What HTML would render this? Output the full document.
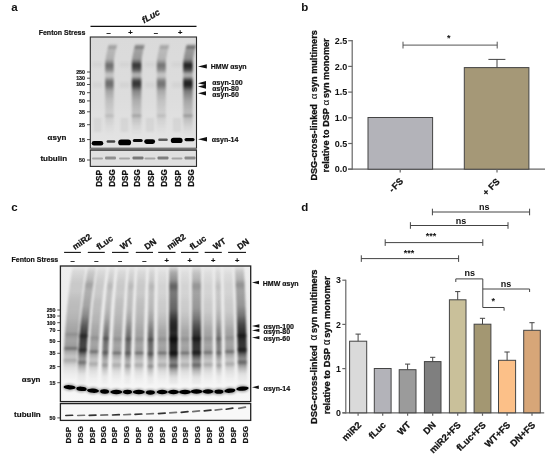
<!DOCTYPE html>
<html><head><meta charset="utf-8"><title>Figure</title>
<style>html,body{margin:0;padding:0;background:#fff}svg{display:block}text{font-family:"Liberation Sans",sans-serif;fill:#111}</style>
</head><body>
<svg width="550" height="459" viewBox="0 0 550 459">
<defs>
<filter id="b1" x="-20%" y="-20%" width="140%" height="140%"><feGaussianBlur stdDeviation="1.3"/></filter>
<filter id="b2" x="-30%" y="-60%" width="160%" height="220%"><feGaussianBlur stdDeviation="0.7"/></filter>
<filter id="b4" x="-20%" y="-20%" width="140%" height="140%"><feGaussianBlur stdDeviation="0.95 1.3"/></filter>
<filter id="b3" x="-30%" y="-60%" width="160%" height="220%"><feGaussianBlur stdDeviation="1.0"/></filter>
<linearGradient id="ga" x1="0" y1="0" x2="0" y2="1"><stop offset="0" stop-color="#dadada"/><stop offset="0.55" stop-color="#dddddd"/><stop offset="1" stop-color="#e4e4e4"/></linearGradient>
<linearGradient id="gc" x1="0" y1="0" x2="0" y2="1"><stop offset="0" stop-color="#eeeeee"/><stop offset="0.45" stop-color="#ebebeb"/><stop offset="0.75" stop-color="#f3f3f3"/><stop offset="1" stop-color="#f7f7f7"/></linearGradient>
<clipPath id="ca"><rect x="90.3" y="37" width="106.2" height="111.3"/></clipPath>
<clipPath id="cat"><rect x="90.3" y="150.2" width="106.2" height="16.2"/></clipPath>
<clipPath id="cc"><rect x="60.4" y="266" width="190.3" height="135.6"/></clipPath>
<clipPath id="cct"><rect x="60.4" y="403.6" width="190.3" height="16.8"/></clipPath>
</defs>
<rect width="550" height="459" fill="#fff"/>
<text x="11.2" y="11.3" font-size="11.5" text-anchor="start" font-weight="bold">a</text>
<text x="38.7" y="34.9" font-size="7" text-anchor="start" font-weight="bold" stroke="#111" stroke-width="0.18">Fenton Stress</text>
<text x="152.3" y="18.8" font-size="9" text-anchor="middle" font-weight="bold" font-style="italic" transform="rotate(-30 152.3 18.8)" stroke="#111" stroke-width="0.25">fLuc</text>
<line x1="90.5" y1="26.3" x2="196.5" y2="26.3" stroke="#111" stroke-width="1.2"/>
<text x="108.5" y="34.6" font-size="7.5" text-anchor="middle" font-weight="bold" stroke="#111" stroke-width="0.18">–</text>
<text x="130.4" y="34.6" font-size="7.5" text-anchor="middle" font-weight="bold" stroke="#111" stroke-width="0.18">+</text>
<text x="155.8" y="34.6" font-size="7.5" text-anchor="middle" font-weight="bold" stroke="#111" stroke-width="0.18">–</text>
<text x="180.2" y="34.6" font-size="7.5" text-anchor="middle" font-weight="bold" stroke="#111" stroke-width="0.18">+</text>
<text x="85" y="73.9" font-size="5.3" text-anchor="end" font-weight="bold" stroke="#111" stroke-width="0.18">250</text>
<line x1="87" y1="72" x2="90" y2="72" stroke="#222" stroke-width="0.8"/>
<text x="85" y="80.10000000000001" font-size="5.3" text-anchor="end" font-weight="bold" stroke="#111" stroke-width="0.18">130</text>
<line x1="87" y1="78.2" x2="90" y2="78.2" stroke="#222" stroke-width="0.8"/>
<text x="85" y="86.4" font-size="5.3" text-anchor="end" font-weight="bold" stroke="#111" stroke-width="0.18">100</text>
<line x1="87" y1="84.5" x2="90" y2="84.5" stroke="#222" stroke-width="0.8"/>
<text x="85" y="94.60000000000001" font-size="5.3" text-anchor="end" font-weight="bold" stroke="#111" stroke-width="0.18">70</text>
<line x1="87" y1="92.7" x2="90" y2="92.7" stroke="#222" stroke-width="0.8"/>
<text x="85" y="102.80000000000001" font-size="5.3" text-anchor="end" font-weight="bold" stroke="#111" stroke-width="0.18">50</text>
<line x1="87" y1="100.9" x2="90" y2="100.9" stroke="#222" stroke-width="0.8"/>
<text x="85" y="113.7" font-size="5.3" text-anchor="end" font-weight="bold" stroke="#111" stroke-width="0.18">35</text>
<line x1="87" y1="111.8" x2="90" y2="111.8" stroke="#222" stroke-width="0.8"/>
<text x="85" y="126.60000000000001" font-size="5.3" text-anchor="end" font-weight="bold" stroke="#111" stroke-width="0.18">25</text>
<line x1="87" y1="124.7" x2="90" y2="124.7" stroke="#222" stroke-width="0.8"/>
<text x="85" y="141.5" font-size="5.3" text-anchor="end" font-weight="bold" stroke="#111" stroke-width="0.18">15</text>
<line x1="87" y1="139.6" x2="90" y2="139.6" stroke="#222" stroke-width="0.8"/>
<text x="85" y="161.9" font-size="5.3" text-anchor="end" font-weight="bold" stroke="#111" stroke-width="0.18">50</text>
<line x1="87" y1="160" x2="90" y2="160" stroke="#222" stroke-width="0.8"/>
<text x="47.6" y="139.6" font-size="8" text-anchor="start" font-weight="bold" stroke="#111" stroke-width="0.18">αsyn</text>
<text x="40.4" y="160.9" font-size="8" text-anchor="start" font-weight="bold" stroke="#111" stroke-width="0.18">tubulin</text>
<rect x="90.3" y="37" width="106.2" height="111.3" fill="url(#ga)"/>
<g clip-path="url(#ca)">
<g filter="url(#b3)">
<rect x="108.7" y="44" width="8.5" height="1.3" fill="#000" fill-opacity="0.078"/>
<rect x="108.5" y="45" width="8.5" height="1.3" fill="#000" fill-opacity="0.156"/>
<rect x="108.2" y="46" width="8.5" height="1.3" fill="#000" fill-opacity="0.218"/>
<rect x="107.9" y="47" width="8.5" height="1.3" fill="#000" fill-opacity="0.226"/>
<rect x="107.6" y="48" width="8.5" height="1.3" fill="#000" fill-opacity="0.179"/>
<rect x="107.4" y="49" width="8.5" height="1.3" fill="#000" fill-opacity="0.133"/>
<rect x="107.1" y="50" width="8.5" height="1.3" fill="#000" fill-opacity="0.135"/>
<rect x="106.9" y="51" width="8.5" height="1.3" fill="#000" fill-opacity="0.138"/>
<rect x="106.7" y="52" width="8.5" height="1.3" fill="#000" fill-opacity="0.140"/>
<rect x="106.5" y="53" width="8.5" height="1.3" fill="#000" fill-opacity="0.143"/>
<rect x="106.3" y="54" width="8.5" height="1.3" fill="#000" fill-opacity="0.146"/>
<rect x="106.1" y="55" width="8.5" height="1.3" fill="#000" fill-opacity="0.148"/>
<rect x="105.9" y="56" width="8.5" height="1.3" fill="#000" fill-opacity="0.151"/>
<rect x="105.8" y="57" width="8.5" height="1.3" fill="#000" fill-opacity="0.153"/>
<rect x="105.6" y="58" width="8.5" height="1.3" fill="#000" fill-opacity="0.156"/>
<rect x="105.5" y="59" width="8.5" height="1.3" fill="#000" fill-opacity="0.192"/>
<rect x="105.4" y="60" width="8.5" height="1.3" fill="#000" fill-opacity="0.229"/>
<rect x="105.3" y="61" width="8.5" height="1.3" fill="#000" fill-opacity="0.265"/>
<rect x="105.2" y="62" width="8.5" height="1.3" fill="#000" fill-opacity="0.322"/>
<rect x="105.2" y="63" width="8.5" height="1.3" fill="#000" fill-opacity="0.380"/>
<rect x="105.2" y="64" width="8.5" height="1.3" fill="#000" fill-opacity="0.437"/>
<rect x="105.2" y="65" width="8.5" height="1.3" fill="#000" fill-opacity="0.421"/>
<rect x="105.2" y="66" width="8.5" height="1.3" fill="#000" fill-opacity="0.406"/>
<rect x="105.2" y="67" width="8.5" height="1.3" fill="#000" fill-opacity="0.390"/>
<rect x="105.2" y="68" width="8.5" height="1.3" fill="#000" fill-opacity="0.354"/>
<rect x="105.2" y="69" width="8.5" height="1.3" fill="#000" fill-opacity="0.317"/>
<rect x="105.2" y="70" width="8.5" height="1.3" fill="#000" fill-opacity="0.281"/>
<rect x="105.2" y="71" width="8.5" height="1.3" fill="#000" fill-opacity="0.221"/>
<rect x="105.2" y="72" width="8.5" height="1.3" fill="#000" fill-opacity="0.161"/>
<rect x="105.2" y="73" width="8.5" height="1.3" fill="#000" fill-opacity="0.101"/>
<rect x="105.2" y="74" width="8.5" height="1.3" fill="#000" fill-opacity="0.101"/>
<rect x="105.2" y="75" width="8.5" height="1.3" fill="#000" fill-opacity="0.101"/>
<rect x="105.2" y="76" width="8.5" height="1.3" fill="#000" fill-opacity="0.101"/>
<rect x="105.2" y="77" width="8.5" height="1.3" fill="#000" fill-opacity="0.173"/>
<rect x="105.2" y="78" width="8.5" height="1.3" fill="#000" fill-opacity="0.245"/>
<rect x="105.2" y="79" width="8.5" height="1.3" fill="#000" fill-opacity="0.309"/>
<rect x="105.2" y="80" width="8.5" height="1.3" fill="#000" fill-opacity="0.365"/>
<rect x="105.2" y="81" width="8.5" height="1.3" fill="#000" fill-opacity="0.421"/>
<rect x="105.2" y="82" width="8.5" height="1.3" fill="#000" fill-opacity="0.426"/>
<rect x="105.2" y="83" width="8.5" height="1.3" fill="#000" fill-opacity="0.430"/>
<rect x="105.2" y="84" width="8.5" height="1.3" fill="#000" fill-opacity="0.435"/>
<rect x="105.2" y="85" width="8.5" height="1.3" fill="#000" fill-opacity="0.415"/>
<rect x="105.2" y="86" width="8.5" height="1.3" fill="#000" fill-opacity="0.371"/>
<rect x="105.2" y="87" width="8.5" height="1.3" fill="#000" fill-opacity="0.328"/>
<rect x="105.2" y="88" width="8.5" height="1.3" fill="#000" fill-opacity="0.289"/>
<rect x="105.2" y="89" width="8.5" height="1.3" fill="#000" fill-opacity="0.250"/>
<rect x="105.2" y="90" width="8.5" height="1.3" fill="#000" fill-opacity="0.211"/>
<rect x="105.2" y="91" width="8.5" height="1.3" fill="#000" fill-opacity="0.199"/>
<rect x="105.2" y="92" width="8.5" height="1.3" fill="#000" fill-opacity="0.187"/>
<rect x="105.2" y="93" width="8.5" height="1.3" fill="#000" fill-opacity="0.176"/>
<rect x="105.2" y="94" width="8.5" height="1.3" fill="#000" fill-opacity="0.164"/>
<rect x="105.2" y="95" width="8.5" height="1.3" fill="#000" fill-opacity="0.155"/>
<rect x="105.2" y="96" width="8.5" height="1.3" fill="#000" fill-opacity="0.146"/>
<rect x="105.2" y="97" width="8.5" height="1.3" fill="#000" fill-opacity="0.136"/>
<rect x="105.2" y="98" width="8.5" height="1.3" fill="#000" fill-opacity="0.127"/>
<rect x="105.2" y="99" width="8.5" height="1.3" fill="#000" fill-opacity="0.118"/>
<rect x="105.2" y="100" width="8.5" height="1.3" fill="#000" fill-opacity="0.109"/>
<rect x="105.2" y="101" width="8.5" height="1.3" fill="#000" fill-opacity="0.105"/>
<rect x="105.2" y="102" width="8.5" height="1.3" fill="#000" fill-opacity="0.101"/>
<rect x="105.2" y="103" width="8.5" height="1.3" fill="#000" fill-opacity="0.098"/>
<rect x="105.2" y="104" width="8.5" height="1.3" fill="#000" fill-opacity="0.094"/>
<rect x="105.2" y="105" width="8.5" height="1.3" fill="#000" fill-opacity="0.090"/>
<rect x="105.2" y="106" width="8.5" height="1.3" fill="#000" fill-opacity="0.086"/>
<rect x="105.2" y="107" width="8.5" height="1.3" fill="#000" fill-opacity="0.082"/>
<rect x="105.2" y="108" width="8.5" height="1.3" fill="#000" fill-opacity="0.078"/>
<rect x="105.2" y="109" width="8.5" height="1.3" fill="#000" fill-opacity="0.076"/>
<rect x="105.2" y="110" width="8.5" height="1.3" fill="#000" fill-opacity="0.075"/>
<rect x="105.2" y="111" width="8.5" height="1.3" fill="#000" fill-opacity="0.073"/>
<rect x="105.2" y="112" width="8.5" height="1.3" fill="#000" fill-opacity="0.072"/>
<rect x="105.2" y="113" width="8.5" height="1.3" fill="#000" fill-opacity="0.070"/>
<rect x="105.2" y="114" width="8.5" height="1.3" fill="#000" fill-opacity="0.113"/>
<rect x="105.2" y="115" width="8.5" height="1.3" fill="#000" fill-opacity="0.156"/>
<rect x="105.2" y="116" width="8.5" height="1.3" fill="#000" fill-opacity="0.113"/>
<rect x="105.2" y="117" width="8.5" height="1.3" fill="#000" fill-opacity="0.070"/>
<rect x="105.2" y="118" width="8.5" height="1.3" fill="#000" fill-opacity="0.065"/>
<rect x="105.2" y="119" width="8.5" height="1.3" fill="#000" fill-opacity="0.060"/>
<rect x="105.2" y="120" width="8.5" height="1.3" fill="#000" fill-opacity="0.056"/>
<rect x="105.2" y="121" width="8.5" height="1.3" fill="#000" fill-opacity="0.051"/>
<rect x="105.2" y="122" width="8.5" height="1.3" fill="#000" fill-opacity="0.046"/>
<rect x="105.2" y="123" width="8.5" height="1.3" fill="#000" fill-opacity="0.041"/>
<rect x="105.2" y="124" width="8.5" height="1.3" fill="#000" fill-opacity="0.036"/>
<rect x="105.2" y="125" width="8.5" height="1.3" fill="#000" fill-opacity="0.031"/>
<rect x="105.2" y="126" width="8.5" height="1.3" fill="#000" fill-opacity="0.028"/>
<rect x="105.2" y="127" width="8.5" height="1.3" fill="#000" fill-opacity="0.025"/>
<rect x="105.2" y="128" width="8.5" height="1.3" fill="#000" fill-opacity="0.022"/>
<rect x="105.2" y="129" width="8.5" height="1.3" fill="#000" fill-opacity="0.019"/>
<rect x="105.2" y="130" width="8.5" height="1.3" fill="#000" fill-opacity="0.016"/>
<rect x="105.2" y="131" width="8.5" height="1.3" fill="#000" fill-opacity="0.012"/>
<rect x="105.2" y="132" width="8.5" height="1.3" fill="#000" fill-opacity="0.009"/>
<rect x="105.2" y="133" width="8.5" height="1.3" fill="#000" fill-opacity="0.006"/>
<rect x="135.2" y="44" width="9.5" height="1.3" fill="#000" fill-opacity="0.125"/>
<rect x="134.9" y="45" width="9.5" height="1.3" fill="#000" fill-opacity="0.250"/>
<rect x="134.7" y="46" width="9.5" height="1.3" fill="#000" fill-opacity="0.350"/>
<rect x="134.4" y="47" width="9.5" height="1.3" fill="#000" fill-opacity="0.363"/>
<rect x="134.1" y="48" width="9.5" height="1.3" fill="#000" fill-opacity="0.288"/>
<rect x="133.9" y="49" width="9.5" height="1.3" fill="#000" fill-opacity="0.213"/>
<rect x="133.6" y="50" width="9.5" height="1.3" fill="#000" fill-opacity="0.217"/>
<rect x="133.4" y="51" width="9.5" height="1.3" fill="#000" fill-opacity="0.221"/>
<rect x="133.2" y="52" width="9.5" height="1.3" fill="#000" fill-opacity="0.225"/>
<rect x="133.0" y="53" width="9.5" height="1.3" fill="#000" fill-opacity="0.229"/>
<rect x="132.8" y="54" width="9.5" height="1.3" fill="#000" fill-opacity="0.233"/>
<rect x="132.6" y="55" width="9.5" height="1.3" fill="#000" fill-opacity="0.237"/>
<rect x="132.4" y="56" width="9.5" height="1.3" fill="#000" fill-opacity="0.242"/>
<rect x="132.3" y="57" width="9.5" height="1.3" fill="#000" fill-opacity="0.246"/>
<rect x="132.1" y="58" width="9.5" height="1.3" fill="#000" fill-opacity="0.250"/>
<rect x="132.0" y="59" width="9.5" height="1.3" fill="#000" fill-opacity="0.308"/>
<rect x="131.9" y="60" width="9.5" height="1.3" fill="#000" fill-opacity="0.367"/>
<rect x="131.8" y="61" width="9.5" height="1.3" fill="#000" fill-opacity="0.425"/>
<rect x="131.8" y="62" width="9.5" height="1.3" fill="#000" fill-opacity="0.517"/>
<rect x="131.8" y="63" width="9.5" height="1.3" fill="#000" fill-opacity="0.608"/>
<rect x="131.8" y="64" width="9.5" height="1.3" fill="#000" fill-opacity="0.700"/>
<rect x="131.8" y="65" width="9.5" height="1.3" fill="#000" fill-opacity="0.675"/>
<rect x="131.8" y="66" width="9.5" height="1.3" fill="#000" fill-opacity="0.650"/>
<rect x="131.8" y="67" width="9.5" height="1.3" fill="#000" fill-opacity="0.625"/>
<rect x="131.8" y="68" width="9.5" height="1.3" fill="#000" fill-opacity="0.567"/>
<rect x="131.8" y="69" width="9.5" height="1.3" fill="#000" fill-opacity="0.508"/>
<rect x="131.8" y="70" width="9.5" height="1.3" fill="#000" fill-opacity="0.450"/>
<rect x="131.8" y="71" width="9.5" height="1.3" fill="#000" fill-opacity="0.354"/>
<rect x="131.8" y="72" width="9.5" height="1.3" fill="#000" fill-opacity="0.258"/>
<rect x="131.8" y="73" width="9.5" height="1.3" fill="#000" fill-opacity="0.163"/>
<rect x="131.8" y="74" width="9.5" height="1.3" fill="#000" fill-opacity="0.163"/>
<rect x="131.8" y="75" width="9.5" height="1.3" fill="#000" fill-opacity="0.163"/>
<rect x="131.8" y="76" width="9.5" height="1.3" fill="#000" fill-opacity="0.163"/>
<rect x="131.8" y="77" width="9.5" height="1.3" fill="#000" fill-opacity="0.278"/>
<rect x="131.8" y="78" width="9.5" height="1.3" fill="#000" fill-opacity="0.393"/>
<rect x="131.8" y="79" width="9.5" height="1.3" fill="#000" fill-opacity="0.495"/>
<rect x="131.8" y="80" width="9.5" height="1.3" fill="#000" fill-opacity="0.585"/>
<rect x="131.8" y="81" width="9.5" height="1.3" fill="#000" fill-opacity="0.675"/>
<rect x="131.8" y="82" width="9.5" height="1.3" fill="#000" fill-opacity="0.682"/>
<rect x="131.8" y="83" width="9.5" height="1.3" fill="#000" fill-opacity="0.689"/>
<rect x="131.8" y="84" width="9.5" height="1.3" fill="#000" fill-opacity="0.696"/>
<rect x="131.8" y="85" width="9.5" height="1.3" fill="#000" fill-opacity="0.665"/>
<rect x="131.8" y="86" width="9.5" height="1.3" fill="#000" fill-opacity="0.595"/>
<rect x="131.8" y="87" width="9.5" height="1.3" fill="#000" fill-opacity="0.525"/>
<rect x="131.8" y="88" width="9.5" height="1.3" fill="#000" fill-opacity="0.463"/>
<rect x="131.8" y="89" width="9.5" height="1.3" fill="#000" fill-opacity="0.400"/>
<rect x="131.8" y="90" width="9.5" height="1.3" fill="#000" fill-opacity="0.338"/>
<rect x="131.8" y="91" width="9.5" height="1.3" fill="#000" fill-opacity="0.319"/>
<rect x="131.8" y="92" width="9.5" height="1.3" fill="#000" fill-opacity="0.300"/>
<rect x="131.8" y="93" width="9.5" height="1.3" fill="#000" fill-opacity="0.281"/>
<rect x="131.8" y="94" width="9.5" height="1.3" fill="#000" fill-opacity="0.263"/>
<rect x="131.8" y="95" width="9.5" height="1.3" fill="#000" fill-opacity="0.248"/>
<rect x="131.8" y="96" width="9.5" height="1.3" fill="#000" fill-opacity="0.233"/>
<rect x="131.8" y="97" width="9.5" height="1.3" fill="#000" fill-opacity="0.219"/>
<rect x="131.8" y="98" width="9.5" height="1.3" fill="#000" fill-opacity="0.204"/>
<rect x="131.8" y="99" width="9.5" height="1.3" fill="#000" fill-opacity="0.190"/>
<rect x="131.8" y="100" width="9.5" height="1.3" fill="#000" fill-opacity="0.175"/>
<rect x="131.8" y="101" width="9.5" height="1.3" fill="#000" fill-opacity="0.169"/>
<rect x="131.8" y="102" width="9.5" height="1.3" fill="#000" fill-opacity="0.163"/>
<rect x="131.8" y="103" width="9.5" height="1.3" fill="#000" fill-opacity="0.156"/>
<rect x="131.8" y="104" width="9.5" height="1.3" fill="#000" fill-opacity="0.150"/>
<rect x="131.8" y="105" width="9.5" height="1.3" fill="#000" fill-opacity="0.144"/>
<rect x="131.8" y="106" width="9.5" height="1.3" fill="#000" fill-opacity="0.138"/>
<rect x="131.8" y="107" width="9.5" height="1.3" fill="#000" fill-opacity="0.131"/>
<rect x="131.8" y="108" width="9.5" height="1.3" fill="#000" fill-opacity="0.125"/>
<rect x="131.8" y="109" width="9.5" height="1.3" fill="#000" fill-opacity="0.122"/>
<rect x="131.8" y="110" width="9.5" height="1.3" fill="#000" fill-opacity="0.120"/>
<rect x="131.8" y="111" width="9.5" height="1.3" fill="#000" fill-opacity="0.117"/>
<rect x="131.8" y="112" width="9.5" height="1.3" fill="#000" fill-opacity="0.115"/>
<rect x="131.8" y="113" width="9.5" height="1.3" fill="#000" fill-opacity="0.112"/>
<rect x="131.8" y="114" width="9.5" height="1.3" fill="#000" fill-opacity="0.181"/>
<rect x="131.8" y="115" width="9.5" height="1.3" fill="#000" fill-opacity="0.250"/>
<rect x="131.8" y="116" width="9.5" height="1.3" fill="#000" fill-opacity="0.181"/>
<rect x="131.8" y="117" width="9.5" height="1.3" fill="#000" fill-opacity="0.112"/>
<rect x="131.8" y="118" width="9.5" height="1.3" fill="#000" fill-opacity="0.105"/>
<rect x="131.8" y="119" width="9.5" height="1.3" fill="#000" fill-opacity="0.097"/>
<rect x="131.8" y="120" width="9.5" height="1.3" fill="#000" fill-opacity="0.089"/>
<rect x="131.8" y="121" width="9.5" height="1.3" fill="#000" fill-opacity="0.081"/>
<rect x="131.8" y="122" width="9.5" height="1.3" fill="#000" fill-opacity="0.073"/>
<rect x="131.8" y="123" width="9.5" height="1.3" fill="#000" fill-opacity="0.066"/>
<rect x="131.8" y="124" width="9.5" height="1.3" fill="#000" fill-opacity="0.058"/>
<rect x="131.8" y="125" width="9.5" height="1.3" fill="#000" fill-opacity="0.050"/>
<rect x="131.8" y="126" width="9.5" height="1.3" fill="#000" fill-opacity="0.045"/>
<rect x="131.8" y="127" width="9.5" height="1.3" fill="#000" fill-opacity="0.040"/>
<rect x="131.8" y="128" width="9.5" height="1.3" fill="#000" fill-opacity="0.035"/>
<rect x="131.8" y="129" width="9.5" height="1.3" fill="#000" fill-opacity="0.030"/>
<rect x="131.8" y="130" width="9.5" height="1.3" fill="#000" fill-opacity="0.025"/>
<rect x="131.8" y="131" width="9.5" height="1.3" fill="#000" fill-opacity="0.020"/>
<rect x="131.8" y="132" width="9.5" height="1.3" fill="#000" fill-opacity="0.015"/>
<rect x="131.8" y="133" width="9.5" height="1.3" fill="#000" fill-opacity="0.010"/>
<rect x="131.8" y="134" width="9.5" height="1.3" fill="#000" fill-opacity="0.005"/>
<rect x="160.3" y="44" width="9" height="1.3" fill="#000" fill-opacity="0.072"/>
<rect x="160.0" y="45" width="9" height="1.3" fill="#000" fill-opacity="0.144"/>
<rect x="159.7" y="46" width="9" height="1.3" fill="#000" fill-opacity="0.202"/>
<rect x="159.5" y="47" width="9" height="1.3" fill="#000" fill-opacity="0.209"/>
<rect x="159.2" y="48" width="9" height="1.3" fill="#000" fill-opacity="0.166"/>
<rect x="158.9" y="49" width="9" height="1.3" fill="#000" fill-opacity="0.122"/>
<rect x="158.7" y="50" width="9" height="1.3" fill="#000" fill-opacity="0.125"/>
<rect x="158.5" y="51" width="9" height="1.3" fill="#000" fill-opacity="0.127"/>
<rect x="158.2" y="52" width="9" height="1.3" fill="#000" fill-opacity="0.130"/>
<rect x="158.0" y="53" width="9" height="1.3" fill="#000" fill-opacity="0.132"/>
<rect x="157.8" y="54" width="9" height="1.3" fill="#000" fill-opacity="0.134"/>
<rect x="157.6" y="55" width="9" height="1.3" fill="#000" fill-opacity="0.137"/>
<rect x="157.5" y="56" width="9" height="1.3" fill="#000" fill-opacity="0.139"/>
<rect x="157.3" y="57" width="9" height="1.3" fill="#000" fill-opacity="0.142"/>
<rect x="157.2" y="58" width="9" height="1.3" fill="#000" fill-opacity="0.144"/>
<rect x="157.0" y="59" width="9" height="1.3" fill="#000" fill-opacity="0.178"/>
<rect x="156.9" y="60" width="9" height="1.3" fill="#000" fill-opacity="0.211"/>
<rect x="156.8" y="61" width="9" height="1.3" fill="#000" fill-opacity="0.245"/>
<rect x="156.8" y="62" width="9" height="1.3" fill="#000" fill-opacity="0.298"/>
<rect x="156.8" y="63" width="9" height="1.3" fill="#000" fill-opacity="0.350"/>
<rect x="156.8" y="64" width="9" height="1.3" fill="#000" fill-opacity="0.403"/>
<rect x="156.8" y="65" width="9" height="1.3" fill="#000" fill-opacity="0.389"/>
<rect x="156.8" y="66" width="9" height="1.3" fill="#000" fill-opacity="0.374"/>
<rect x="156.8" y="67" width="9" height="1.3" fill="#000" fill-opacity="0.360"/>
<rect x="156.8" y="68" width="9" height="1.3" fill="#000" fill-opacity="0.326"/>
<rect x="156.8" y="69" width="9" height="1.3" fill="#000" fill-opacity="0.293"/>
<rect x="156.8" y="70" width="9" height="1.3" fill="#000" fill-opacity="0.259"/>
<rect x="156.8" y="71" width="9" height="1.3" fill="#000" fill-opacity="0.204"/>
<rect x="156.8" y="72" width="9" height="1.3" fill="#000" fill-opacity="0.149"/>
<rect x="156.8" y="73" width="9" height="1.3" fill="#000" fill-opacity="0.094"/>
<rect x="156.8" y="74" width="9" height="1.3" fill="#000" fill-opacity="0.094"/>
<rect x="156.8" y="75" width="9" height="1.3" fill="#000" fill-opacity="0.094"/>
<rect x="156.8" y="76" width="9" height="1.3" fill="#000" fill-opacity="0.094"/>
<rect x="156.8" y="77" width="9" height="1.3" fill="#000" fill-opacity="0.160"/>
<rect x="156.8" y="78" width="9" height="1.3" fill="#000" fill-opacity="0.226"/>
<rect x="156.8" y="79" width="9" height="1.3" fill="#000" fill-opacity="0.285"/>
<rect x="156.8" y="80" width="9" height="1.3" fill="#000" fill-opacity="0.337"/>
<rect x="156.8" y="81" width="9" height="1.3" fill="#000" fill-opacity="0.389"/>
<rect x="156.8" y="82" width="9" height="1.3" fill="#000" fill-opacity="0.393"/>
<rect x="156.8" y="83" width="9" height="1.3" fill="#000" fill-opacity="0.397"/>
<rect x="156.8" y="84" width="9" height="1.3" fill="#000" fill-opacity="0.401"/>
<rect x="156.8" y="85" width="9" height="1.3" fill="#000" fill-opacity="0.383"/>
<rect x="156.8" y="86" width="9" height="1.3" fill="#000" fill-opacity="0.343"/>
<rect x="156.8" y="87" width="9" height="1.3" fill="#000" fill-opacity="0.302"/>
<rect x="156.8" y="88" width="9" height="1.3" fill="#000" fill-opacity="0.266"/>
<rect x="156.8" y="89" width="9" height="1.3" fill="#000" fill-opacity="0.230"/>
<rect x="156.8" y="90" width="9" height="1.3" fill="#000" fill-opacity="0.194"/>
<rect x="156.8" y="91" width="9" height="1.3" fill="#000" fill-opacity="0.184"/>
<rect x="156.8" y="92" width="9" height="1.3" fill="#000" fill-opacity="0.173"/>
<rect x="156.8" y="93" width="9" height="1.3" fill="#000" fill-opacity="0.162"/>
<rect x="156.8" y="94" width="9" height="1.3" fill="#000" fill-opacity="0.151"/>
<rect x="156.8" y="95" width="9" height="1.3" fill="#000" fill-opacity="0.143"/>
<rect x="156.8" y="96" width="9" height="1.3" fill="#000" fill-opacity="0.134"/>
<rect x="156.8" y="97" width="9" height="1.3" fill="#000" fill-opacity="0.126"/>
<rect x="156.8" y="98" width="9" height="1.3" fill="#000" fill-opacity="0.118"/>
<rect x="156.8" y="99" width="9" height="1.3" fill="#000" fill-opacity="0.109"/>
<rect x="156.8" y="100" width="9" height="1.3" fill="#000" fill-opacity="0.101"/>
<rect x="156.8" y="101" width="9" height="1.3" fill="#000" fill-opacity="0.097"/>
<rect x="156.8" y="102" width="9" height="1.3" fill="#000" fill-opacity="0.094"/>
<rect x="156.8" y="103" width="9" height="1.3" fill="#000" fill-opacity="0.090"/>
<rect x="156.8" y="104" width="9" height="1.3" fill="#000" fill-opacity="0.086"/>
<rect x="156.8" y="105" width="9" height="1.3" fill="#000" fill-opacity="0.083"/>
<rect x="156.8" y="106" width="9" height="1.3" fill="#000" fill-opacity="0.079"/>
<rect x="156.8" y="107" width="9" height="1.3" fill="#000" fill-opacity="0.076"/>
<rect x="156.8" y="108" width="9" height="1.3" fill="#000" fill-opacity="0.072"/>
<rect x="156.8" y="109" width="9" height="1.3" fill="#000" fill-opacity="0.071"/>
<rect x="156.8" y="110" width="9" height="1.3" fill="#000" fill-opacity="0.069"/>
<rect x="156.8" y="111" width="9" height="1.3" fill="#000" fill-opacity="0.068"/>
<rect x="156.8" y="112" width="9" height="1.3" fill="#000" fill-opacity="0.066"/>
<rect x="156.8" y="113" width="9" height="1.3" fill="#000" fill-opacity="0.065"/>
<rect x="156.8" y="114" width="9" height="1.3" fill="#000" fill-opacity="0.104"/>
<rect x="156.8" y="115" width="9" height="1.3" fill="#000" fill-opacity="0.144"/>
<rect x="156.8" y="116" width="9" height="1.3" fill="#000" fill-opacity="0.104"/>
<rect x="156.8" y="117" width="9" height="1.3" fill="#000" fill-opacity="0.065"/>
<rect x="156.8" y="118" width="9" height="1.3" fill="#000" fill-opacity="0.060"/>
<rect x="156.8" y="119" width="9" height="1.3" fill="#000" fill-opacity="0.056"/>
<rect x="156.8" y="120" width="9" height="1.3" fill="#000" fill-opacity="0.051"/>
<rect x="156.8" y="121" width="9" height="1.3" fill="#000" fill-opacity="0.047"/>
<rect x="156.8" y="122" width="9" height="1.3" fill="#000" fill-opacity="0.042"/>
<rect x="156.8" y="123" width="9" height="1.3" fill="#000" fill-opacity="0.038"/>
<rect x="156.8" y="124" width="9" height="1.3" fill="#000" fill-opacity="0.033"/>
<rect x="156.8" y="125" width="9" height="1.3" fill="#000" fill-opacity="0.029"/>
<rect x="156.8" y="126" width="9" height="1.3" fill="#000" fill-opacity="0.026"/>
<rect x="156.8" y="127" width="9" height="1.3" fill="#000" fill-opacity="0.023"/>
<rect x="156.8" y="128" width="9" height="1.3" fill="#000" fill-opacity="0.020"/>
<rect x="156.8" y="129" width="9" height="1.3" fill="#000" fill-opacity="0.017"/>
<rect x="156.8" y="130" width="9" height="1.3" fill="#000" fill-opacity="0.014"/>
<rect x="156.8" y="131" width="9" height="1.3" fill="#000" fill-opacity="0.012"/>
<rect x="156.8" y="132" width="9" height="1.3" fill="#000" fill-opacity="0.009"/>
<rect x="156.8" y="133" width="9" height="1.3" fill="#000" fill-opacity="0.006"/>
<rect x="186.7" y="44" width="9.5" height="1.3" fill="#000" fill-opacity="0.145"/>
<rect x="186.4" y="45" width="9.5" height="1.3" fill="#000" fill-opacity="0.290"/>
<rect x="186.2" y="46" width="9.5" height="1.3" fill="#000" fill-opacity="0.406"/>
<rect x="185.9" y="47" width="9.5" height="1.3" fill="#000" fill-opacity="0.421"/>
<rect x="185.6" y="48" width="9.5" height="1.3" fill="#000" fill-opacity="0.334"/>
<rect x="185.4" y="49" width="9.5" height="1.3" fill="#000" fill-opacity="0.246"/>
<rect x="185.1" y="50" width="9.5" height="1.3" fill="#000" fill-opacity="0.251"/>
<rect x="184.9" y="51" width="9.5" height="1.3" fill="#000" fill-opacity="0.256"/>
<rect x="184.7" y="52" width="9.5" height="1.3" fill="#000" fill-opacity="0.261"/>
<rect x="184.5" y="53" width="9.5" height="1.3" fill="#000" fill-opacity="0.266"/>
<rect x="184.3" y="54" width="9.5" height="1.3" fill="#000" fill-opacity="0.271"/>
<rect x="184.1" y="55" width="9.5" height="1.3" fill="#000" fill-opacity="0.275"/>
<rect x="183.9" y="56" width="9.5" height="1.3" fill="#000" fill-opacity="0.280"/>
<rect x="183.8" y="57" width="9.5" height="1.3" fill="#000" fill-opacity="0.285"/>
<rect x="183.6" y="58" width="9.5" height="1.3" fill="#000" fill-opacity="0.290"/>
<rect x="183.5" y="59" width="9.5" height="1.3" fill="#000" fill-opacity="0.358"/>
<rect x="183.4" y="60" width="9.5" height="1.3" fill="#000" fill-opacity="0.425"/>
<rect x="183.3" y="61" width="9.5" height="1.3" fill="#000" fill-opacity="0.493"/>
<rect x="183.2" y="62" width="9.5" height="1.3" fill="#000" fill-opacity="0.599"/>
<rect x="183.2" y="63" width="9.5" height="1.3" fill="#000" fill-opacity="0.706"/>
<rect x="183.2" y="64" width="9.5" height="1.3" fill="#000" fill-opacity="0.812"/>
<rect x="183.2" y="65" width="9.5" height="1.3" fill="#000" fill-opacity="0.783"/>
<rect x="183.2" y="66" width="9.5" height="1.3" fill="#000" fill-opacity="0.754"/>
<rect x="183.2" y="67" width="9.5" height="1.3" fill="#000" fill-opacity="0.725"/>
<rect x="183.2" y="68" width="9.5" height="1.3" fill="#000" fill-opacity="0.657"/>
<rect x="183.2" y="69" width="9.5" height="1.3" fill="#000" fill-opacity="0.590"/>
<rect x="183.2" y="70" width="9.5" height="1.3" fill="#000" fill-opacity="0.522"/>
<rect x="183.2" y="71" width="9.5" height="1.3" fill="#000" fill-opacity="0.411"/>
<rect x="183.2" y="72" width="9.5" height="1.3" fill="#000" fill-opacity="0.300"/>
<rect x="183.2" y="73" width="9.5" height="1.3" fill="#000" fill-opacity="0.189"/>
<rect x="183.2" y="74" width="9.5" height="1.3" fill="#000" fill-opacity="0.189"/>
<rect x="183.2" y="75" width="9.5" height="1.3" fill="#000" fill-opacity="0.189"/>
<rect x="183.2" y="76" width="9.5" height="1.3" fill="#000" fill-opacity="0.189"/>
<rect x="183.2" y="77" width="9.5" height="1.3" fill="#000" fill-opacity="0.322"/>
<rect x="183.2" y="78" width="9.5" height="1.3" fill="#000" fill-opacity="0.455"/>
<rect x="183.2" y="79" width="9.5" height="1.3" fill="#000" fill-opacity="0.574"/>
<rect x="183.2" y="80" width="9.5" height="1.3" fill="#000" fill-opacity="0.679"/>
<rect x="183.2" y="81" width="9.5" height="1.3" fill="#000" fill-opacity="0.783"/>
<rect x="183.2" y="82" width="9.5" height="1.3" fill="#000" fill-opacity="0.791"/>
<rect x="183.2" y="83" width="9.5" height="1.3" fill="#000" fill-opacity="0.800"/>
<rect x="183.2" y="84" width="9.5" height="1.3" fill="#000" fill-opacity="0.808"/>
<rect x="183.2" y="85" width="9.5" height="1.3" fill="#000" fill-opacity="0.771"/>
<rect x="183.2" y="86" width="9.5" height="1.3" fill="#000" fill-opacity="0.690"/>
<rect x="183.2" y="87" width="9.5" height="1.3" fill="#000" fill-opacity="0.609"/>
<rect x="183.2" y="88" width="9.5" height="1.3" fill="#000" fill-opacity="0.536"/>
<rect x="183.2" y="89" width="9.5" height="1.3" fill="#000" fill-opacity="0.464"/>
<rect x="183.2" y="90" width="9.5" height="1.3" fill="#000" fill-opacity="0.392"/>
<rect x="183.2" y="91" width="9.5" height="1.3" fill="#000" fill-opacity="0.370"/>
<rect x="183.2" y="92" width="9.5" height="1.3" fill="#000" fill-opacity="0.348"/>
<rect x="183.2" y="93" width="9.5" height="1.3" fill="#000" fill-opacity="0.326"/>
<rect x="183.2" y="94" width="9.5" height="1.3" fill="#000" fill-opacity="0.304"/>
<rect x="183.2" y="95" width="9.5" height="1.3" fill="#000" fill-opacity="0.288"/>
<rect x="183.2" y="96" width="9.5" height="1.3" fill="#000" fill-opacity="0.271"/>
<rect x="183.2" y="97" width="9.5" height="1.3" fill="#000" fill-opacity="0.254"/>
<rect x="183.2" y="98" width="9.5" height="1.3" fill="#000" fill-opacity="0.237"/>
<rect x="183.2" y="99" width="9.5" height="1.3" fill="#000" fill-opacity="0.220"/>
<rect x="183.2" y="100" width="9.5" height="1.3" fill="#000" fill-opacity="0.203"/>
<rect x="183.2" y="101" width="9.5" height="1.3" fill="#000" fill-opacity="0.196"/>
<rect x="183.2" y="102" width="9.5" height="1.3" fill="#000" fill-opacity="0.189"/>
<rect x="183.2" y="103" width="9.5" height="1.3" fill="#000" fill-opacity="0.181"/>
<rect x="183.2" y="104" width="9.5" height="1.3" fill="#000" fill-opacity="0.174"/>
<rect x="183.2" y="105" width="9.5" height="1.3" fill="#000" fill-opacity="0.167"/>
<rect x="183.2" y="106" width="9.5" height="1.3" fill="#000" fill-opacity="0.160"/>
<rect x="183.2" y="107" width="9.5" height="1.3" fill="#000" fill-opacity="0.152"/>
<rect x="183.2" y="108" width="9.5" height="1.3" fill="#000" fill-opacity="0.145"/>
<rect x="183.2" y="109" width="9.5" height="1.3" fill="#000" fill-opacity="0.142"/>
<rect x="183.2" y="110" width="9.5" height="1.3" fill="#000" fill-opacity="0.139"/>
<rect x="183.2" y="111" width="9.5" height="1.3" fill="#000" fill-opacity="0.136"/>
<rect x="183.2" y="112" width="9.5" height="1.3" fill="#000" fill-opacity="0.133"/>
<rect x="183.2" y="113" width="9.5" height="1.3" fill="#000" fill-opacity="0.131"/>
<rect x="183.2" y="114" width="9.5" height="1.3" fill="#000" fill-opacity="0.210"/>
<rect x="183.2" y="115" width="9.5" height="1.3" fill="#000" fill-opacity="0.290"/>
<rect x="183.2" y="116" width="9.5" height="1.3" fill="#000" fill-opacity="0.210"/>
<rect x="183.2" y="117" width="9.5" height="1.3" fill="#000" fill-opacity="0.131"/>
<rect x="183.2" y="118" width="9.5" height="1.3" fill="#000" fill-opacity="0.121"/>
<rect x="183.2" y="119" width="9.5" height="1.3" fill="#000" fill-opacity="0.112"/>
<rect x="183.2" y="120" width="9.5" height="1.3" fill="#000" fill-opacity="0.103"/>
<rect x="183.2" y="121" width="9.5" height="1.3" fill="#000" fill-opacity="0.094"/>
<rect x="183.2" y="122" width="9.5" height="1.3" fill="#000" fill-opacity="0.085"/>
<rect x="183.2" y="123" width="9.5" height="1.3" fill="#000" fill-opacity="0.076"/>
<rect x="183.2" y="124" width="9.5" height="1.3" fill="#000" fill-opacity="0.067"/>
<rect x="183.2" y="125" width="9.5" height="1.3" fill="#000" fill-opacity="0.058"/>
<rect x="183.2" y="126" width="9.5" height="1.3" fill="#000" fill-opacity="0.052"/>
<rect x="183.2" y="127" width="9.5" height="1.3" fill="#000" fill-opacity="0.046"/>
<rect x="183.2" y="128" width="9.5" height="1.3" fill="#000" fill-opacity="0.041"/>
<rect x="183.2" y="129" width="9.5" height="1.3" fill="#000" fill-opacity="0.035"/>
<rect x="183.2" y="130" width="9.5" height="1.3" fill="#000" fill-opacity="0.029"/>
<rect x="183.2" y="131" width="9.5" height="1.3" fill="#000" fill-opacity="0.023"/>
<rect x="183.2" y="132" width="9.5" height="1.3" fill="#000" fill-opacity="0.017"/>
<rect x="183.2" y="133" width="9.5" height="1.3" fill="#000" fill-opacity="0.012"/>
<rect x="183.2" y="134" width="9.5" height="1.3" fill="#000" fill-opacity="0.006"/>
<rect x="92.5" y="62" width="10" height="5" fill="#000" fill-opacity="0.03"/>
<rect x="92.5" y="82" width="10" height="6" fill="#000" fill-opacity="0.035"/>
<rect x="93.5" y="118" width="8" height="14" fill="#000" fill-opacity="0.05"/>
<rect x="119.5" y="62" width="10" height="5" fill="#000" fill-opacity="0.03"/>
<rect x="119.5" y="82" width="10" height="6" fill="#000" fill-opacity="0.035"/>
<rect x="120.5" y="118" width="8" height="14" fill="#000" fill-opacity="0.05"/>
<rect x="145" y="62" width="10" height="5" fill="#000" fill-opacity="0.03"/>
<rect x="145" y="82" width="10" height="6" fill="#000" fill-opacity="0.035"/>
<rect x="146" y="118" width="8" height="14" fill="#000" fill-opacity="0.05"/>
<rect x="172" y="62" width="10" height="5" fill="#000" fill-opacity="0.03"/>
<rect x="172" y="82" width="10" height="6" fill="#000" fill-opacity="0.035"/>
<rect x="173" y="118" width="8" height="14" fill="#000" fill-opacity="0.05"/>
</g>
<g filter="url(#b2)">
<rect x="91.7" y="141.0" width="11.6" height="4.4" rx="2.2" fill="#000" fill-opacity="1.0"/>
<rect x="106.6" y="140.3" width="8.7" height="2.4" rx="1.2" fill="#000" fill-opacity="0.7"/>
<rect x="118.2" y="139.5" width="12.9" height="5.8" rx="2.9" fill="#000" fill-opacity="1.0"/>
<rect x="132.8" y="138.9" width="9.9" height="3.0" rx="1.5" fill="#000" fill-opacity="0.95"/>
<rect x="144.2" y="139.2" width="10.9" height="4.8" rx="2.4" fill="#000" fill-opacity="1.0"/>
<rect x="158.2" y="138.6" width="9.6" height="2.4" rx="1.2" fill="#000" fill-opacity="0.6"/>
<rect x="170.8" y="137.7" width="11.8" height="5.4" rx="2.7" fill="#000" fill-opacity="1.0"/>
<rect x="184.5" y="137.9" width="10.1" height="3.3" rx="1.6" fill="#000" fill-opacity="0.97"/>
</g>
</g>
<rect x="90.3" y="37" width="106.2" height="111.3" fill="none" stroke="#2a2a2a" stroke-width="1.1"/>
<rect x="89.8" y="148.3" width="107.2" height="2" fill="#8a8a8a"/>
<rect x="90.3" y="150.2" width="106.2" height="16.2" fill="#e0e0e0"/>
<g clip-path="url(#cat)" filter="url(#b2)">
<rect x="92.0" y="157.5" width="11" height="2.0" rx="1" fill="#000" fill-opacity="0.26"/>
<rect x="105.0" y="156.4" width="11" height="3.0" rx="1" fill="#000" fill-opacity="0.36"/>
<rect x="119.0" y="157.5" width="11" height="2.0" rx="1" fill="#000" fill-opacity="0.26"/>
<rect x="132.5" y="156.4" width="11" height="3.0" rx="1" fill="#000" fill-opacity="0.46"/>
<rect x="144.5" y="157.5" width="11" height="2.0" rx="1" fill="#000" fill-opacity="0.26"/>
<rect x="157.5" y="156.4" width="11" height="3.0" rx="1" fill="#000" fill-opacity="0.44"/>
<rect x="171.5" y="157.5" width="11" height="2.0" rx="1" fill="#000" fill-opacity="0.26"/>
<rect x="184.5" y="156.4" width="11" height="3.0" rx="1" fill="#000" fill-opacity="0.38"/>
</g>
<rect x="90.3" y="150.2" width="106.2" height="16.2" fill="none" stroke="#2a2a2a" stroke-width="1.1"/>
<text x="101.6" y="186.8" font-size="8.2" text-anchor="start" font-weight="bold" transform="rotate(-90 101.6 186.8)" stroke="#111" stroke-width="0.25">DSP</text>
<text x="114.7" y="186.8" font-size="8.2" text-anchor="start" font-weight="bold" transform="rotate(-90 114.7 186.8)" stroke="#111" stroke-width="0.25">DSG</text>
<text x="128.4" y="186.8" font-size="8.2" text-anchor="start" font-weight="bold" transform="rotate(-90 128.4 186.8)" stroke="#111" stroke-width="0.25">DSP</text>
<text x="139.8" y="186.8" font-size="8.2" text-anchor="start" font-weight="bold" transform="rotate(-90 139.8 186.8)" stroke="#111" stroke-width="0.25">DSG</text>
<text x="154.2" y="186.8" font-size="8.2" text-anchor="start" font-weight="bold" transform="rotate(-90 154.2 186.8)" stroke="#111" stroke-width="0.25">DSP</text>
<text x="167" y="186.8" font-size="8.2" text-anchor="start" font-weight="bold" transform="rotate(-90 167 186.8)" stroke="#111" stroke-width="0.25">DSG</text>
<text x="181" y="186.8" font-size="8.2" text-anchor="start" font-weight="bold" transform="rotate(-90 181 186.8)" stroke="#111" stroke-width="0.25">DSP</text>
<text x="193.7" y="186.8" font-size="8.2" text-anchor="start" font-weight="bold" transform="rotate(-90 193.7 186.8)" stroke="#111" stroke-width="0.25">DSG</text>
<polygon points="198,66.4 206.8,64.2 206.8,68.60000000000001" fill="#111"/>
<text x="210.8" y="68.9" font-size="7" text-anchor="start" font-weight="bold" stroke="#111" stroke-width="0.18">HMW αsyn</text>
<polygon points="198,83.2 206,81.10000000000001 206,85.3" fill="#111"/>
<text x="212.3" y="84.9" font-size="7" text-anchor="start" font-weight="bold" stroke="#111" stroke-width="0.18">αsyn-100</text>
<polygon points="198,86.6 206,84.5 206,88.69999999999999" fill="#111"/>
<text x="212.3" y="91.2" font-size="7" text-anchor="start" font-weight="bold" stroke="#111" stroke-width="0.18">αsyn-80</text>
<polygon points="198,93.3 206,91.2 206,95.39999999999999" fill="#111"/>
<text x="212.3" y="97.3" font-size="7" text-anchor="start" font-weight="bold" stroke="#111" stroke-width="0.18">αsyn-60</text>
<polygon points="198,139.3 207,137.10000000000002 207,141.5" fill="#111"/>
<text x="211.8" y="141.5" font-size="7" text-anchor="start" font-weight="bold" stroke="#111" stroke-width="0.18">αsyn-14</text>
<text x="301.3" y="10.9" font-size="11.5" text-anchor="start" font-weight="bold">b</text>
<line x1="352.2" y1="40.1" x2="352.2" y2="169.8" stroke="#666" stroke-width="1.2"/>
<line x1="348" y1="169.2" x2="545" y2="169.2" stroke="#666" stroke-width="1.2"/>
<line x1="348.2" y1="169.2" x2="352.2" y2="169.2" stroke="#666" stroke-width="1.2"/>
<text x="347.3" y="172.4" font-size="9" text-anchor="end" font-weight="bold">0.0</text>
<line x1="348.2" y1="143.5" x2="352.2" y2="143.5" stroke="#666" stroke-width="1.2"/>
<text x="347.3" y="146.7" font-size="9" text-anchor="end" font-weight="bold">0.5</text>
<line x1="348.2" y1="117.8" x2="352.2" y2="117.8" stroke="#666" stroke-width="1.2"/>
<text x="347.3" y="121.0" font-size="9" text-anchor="end" font-weight="bold">1.0</text>
<line x1="348.2" y1="92.1" x2="352.2" y2="92.1" stroke="#666" stroke-width="1.2"/>
<text x="347.3" y="95.3" font-size="9" text-anchor="end" font-weight="bold">1.5</text>
<line x1="348.2" y1="66.4" x2="352.2" y2="66.4" stroke="#666" stroke-width="1.2"/>
<text x="347.3" y="69.6" font-size="9" text-anchor="end" font-weight="bold">2.0</text>
<line x1="348.2" y1="40.7" x2="352.2" y2="40.7" stroke="#666" stroke-width="1.2"/>
<text x="347.3" y="43.9" font-size="9" text-anchor="end" font-weight="bold">2.5</text>
<rect x="368" y="117.5" width="64.6" height="51.7" fill="#b3b3b9" stroke="#444" stroke-width="1"/>
<rect x="464.3" y="67.6" width="64.6" height="101.6" fill="#a59877" stroke="#444" stroke-width="1"/>
<path d="M497 67.6V59.4M488.4 59.4H505.4" stroke="#444" stroke-width="1" fill="none"/>
<line x1="400.2" y1="169.2" x2="400.2" y2="172.6" stroke="#666" stroke-width="1.2"/>
<line x1="497" y1="169.2" x2="497" y2="172.6" stroke="#666" stroke-width="1.2"/>
<text x="403.8" y="181.8" font-size="9.1" text-anchor="end" font-weight="bold" transform="rotate(-45 403.8 181.8)" stroke="#111" stroke-width="0.25">-<tspan dx="1.2">FS</tspan></text>
<text x="500.2" y="182.2" font-size="9.1" text-anchor="end" font-weight="bold" transform="rotate(-45 500.2 182.2)" stroke="#111" stroke-width="0.25">+<tspan dx="2.8">FS</tspan></text>
<path d="M403 45.1H497.2M403 41.7V48.5M497.2 41.7V48.5" stroke="#555" stroke-width="1" fill="none"/>
<text x="448.7" y="40.6" font-size="9" text-anchor="middle" font-weight="bold">*</text>
<text font-size="9.12" font-weight="bold" text-anchor="middle" stroke="#111" stroke-width="0.3" transform="translate(316.6 105.4) rotate(-90)">DSG-cross-linked <tspan font-weight="normal" stroke-width="0.1" dx="2.2" font-size="9.92">α</tspan><tspan dx="1.6">syn multimers</tspan></text>
<text font-size="9.12" font-weight="bold" text-anchor="middle" stroke="#111" stroke-width="0.3" transform="translate(328.8 105.4) rotate(-90)">relative to DSP <tspan font-weight="normal" stroke-width="0.1" dx="0.3" font-size="9.92">α</tspan><tspan dx="1.6">syn monomer</tspan></text>
<text x="11.3" y="211" font-size="11.5" text-anchor="start" font-weight="bold">c</text>
<text x="11.5" y="262.4" font-size="7" text-anchor="start" font-weight="bold" stroke="#111" stroke-width="0.18">Fenton Stress</text>
<line x1="64.1" y1="252.4" x2="80.9" y2="252.4" stroke="#111" stroke-width="1.1"/>
<text x="75.1" y="250" font-size="8.5" text-anchor="start" font-weight="bold" transform="rotate(-35 75.1 250)" stroke="#111" stroke-width="0.25">miR2</text>
<text x="72.5" y="263.2" font-size="7.5" text-anchor="middle" font-weight="bold" stroke="#111" stroke-width="0.18">–</text>
<line x1="87.8" y1="252.4" x2="104.8" y2="252.4" stroke="#111" stroke-width="1.1"/>
<text x="98.9" y="250" font-size="8.5" text-anchor="start" font-weight="bold" transform="rotate(-35 98.9 250)" stroke="#111" stroke-width="0.25">fLuc</text>
<text x="96.3" y="263.2" font-size="7.5" text-anchor="middle" font-weight="bold" stroke="#111" stroke-width="0.18">–</text>
<line x1="112" y1="252.4" x2="128.5" y2="252.4" stroke="#111" stroke-width="1.1"/>
<text x="122.8" y="250" font-size="8.5" text-anchor="start" font-weight="bold" transform="rotate(-35 122.8 250)" stroke="#111" stroke-width="0.25">WT</text>
<text x="120.2" y="263.2" font-size="7.5" text-anchor="middle" font-weight="bold" stroke="#111" stroke-width="0.18">–</text>
<line x1="135.8" y1="252.4" x2="153" y2="252.4" stroke="#111" stroke-width="1.1"/>
<text x="147.0" y="250" font-size="8.5" text-anchor="start" font-weight="bold" transform="rotate(-35 147.0 250)" stroke="#111" stroke-width="0.25">DN</text>
<text x="144.4" y="263.2" font-size="7.5" text-anchor="middle" font-weight="bold" stroke="#111" stroke-width="0.18">–</text>
<line x1="158.2" y1="252.4" x2="175.5" y2="252.4" stroke="#111" stroke-width="1.1"/>
<text x="169.4" y="250" font-size="8.5" text-anchor="start" font-weight="bold" transform="rotate(-35 169.4 250)" stroke="#111" stroke-width="0.25">miR2</text>
<text x="166.8" y="263.2" font-size="7.5" text-anchor="middle" font-weight="bold" stroke="#111" stroke-width="0.18">+</text>
<line x1="181" y1="252.4" x2="198.4" y2="252.4" stroke="#111" stroke-width="1.1"/>
<text x="192.3" y="250" font-size="8.5" text-anchor="start" font-weight="bold" transform="rotate(-35 192.3 250)" stroke="#111" stroke-width="0.25">fLuc</text>
<text x="189.7" y="263.2" font-size="7.5" text-anchor="middle" font-weight="bold" stroke="#111" stroke-width="0.18">+</text>
<line x1="204.7" y1="252.4" x2="221.8" y2="252.4" stroke="#111" stroke-width="1.1"/>
<text x="215.8" y="250" font-size="8.5" text-anchor="start" font-weight="bold" transform="rotate(-35 215.8 250)" stroke="#111" stroke-width="0.25">WT</text>
<text x="213.2" y="263.2" font-size="7.5" text-anchor="middle" font-weight="bold" stroke="#111" stroke-width="0.18">+</text>
<line x1="228.1" y1="252.4" x2="246" y2="252.4" stroke="#111" stroke-width="1.1"/>
<text x="239.7" y="250" font-size="8.5" text-anchor="start" font-weight="bold" transform="rotate(-35 239.7 250)" stroke="#111" stroke-width="0.25">DN</text>
<text x="237.1" y="263.2" font-size="7.5" text-anchor="middle" font-weight="bold" stroke="#111" stroke-width="0.18">+</text>
<text x="55.5" y="311.9" font-size="5.3" text-anchor="end" font-weight="bold" stroke="#111" stroke-width="0.18">250</text>
<line x1="57.3" y1="310" x2="60" y2="310" stroke="#222" stroke-width="0.8"/>
<text x="55.5" y="317.9" font-size="5.3" text-anchor="end" font-weight="bold" stroke="#111" stroke-width="0.18">130</text>
<line x1="57.3" y1="316" x2="60" y2="316" stroke="#222" stroke-width="0.8"/>
<text x="55.5" y="324.59999999999997" font-size="5.3" text-anchor="end" font-weight="bold" stroke="#111" stroke-width="0.18">100</text>
<line x1="57.3" y1="322.7" x2="60" y2="322.7" stroke="#222" stroke-width="0.8"/>
<text x="55.5" y="332.4" font-size="5.3" text-anchor="end" font-weight="bold" stroke="#111" stroke-width="0.18">70</text>
<line x1="57.3" y1="330.5" x2="60" y2="330.5" stroke="#222" stroke-width="0.8"/>
<text x="55.5" y="343.4" font-size="5.3" text-anchor="end" font-weight="bold" stroke="#111" stroke-width="0.18">50</text>
<line x1="57.3" y1="341.5" x2="60" y2="341.5" stroke="#222" stroke-width="0.8"/>
<text x="55.5" y="355.2" font-size="5.3" text-anchor="end" font-weight="bold" stroke="#111" stroke-width="0.18">35</text>
<line x1="57.3" y1="353.3" x2="60" y2="353.3" stroke="#222" stroke-width="0.8"/>
<text x="55.5" y="368.5" font-size="5.3" text-anchor="end" font-weight="bold" stroke="#111" stroke-width="0.18">25</text>
<line x1="57.3" y1="366.6" x2="60" y2="366.6" stroke="#222" stroke-width="0.8"/>
<text x="55.5" y="384.59999999999997" font-size="5.3" text-anchor="end" font-weight="bold" stroke="#111" stroke-width="0.18">15</text>
<line x1="57.3" y1="382.7" x2="60" y2="382.7" stroke="#222" stroke-width="0.8"/>
<text x="55.5" y="419.7" font-size="5.3" text-anchor="end" font-weight="bold" stroke="#111" stroke-width="0.18">50</text>
<line x1="57.3" y1="417.9" x2="60" y2="417.9" stroke="#222" stroke-width="0.8"/>
<text x="21.8" y="381.5" font-size="8" text-anchor="start" font-weight="bold" stroke="#111" stroke-width="0.18">αsyn</text>
<text x="14.1" y="417" font-size="8" text-anchor="start" font-weight="bold" stroke="#111" stroke-width="0.18">tubulin</text>
<rect x="60.4" y="266" width="190.3" height="135.6" fill="url(#gc)"/>
<g clip-path="url(#cc)">
<g filter="url(#b4)">
<rect x="72.4" y="266" width="13.5" height="2.4" fill="#000" fill-opacity="0.029"/>
<rect x="72.1" y="268" width="13.5" height="2.4" fill="#000" fill-opacity="0.051"/>
<rect x="71.8" y="270" width="13.5" height="2.4" fill="#000" fill-opacity="0.073"/>
<rect x="71.5" y="272" width="13.5" height="2.4" fill="#000" fill-opacity="0.085"/>
<rect x="71.2" y="274" width="13.5" height="2.4" fill="#000" fill-opacity="0.095"/>
<rect x="70.9" y="276" width="13.5" height="2.4" fill="#000" fill-opacity="0.104"/>
<rect x="70.6" y="278" width="13.5" height="2.4" fill="#000" fill-opacity="0.113"/>
<rect x="70.4" y="280" width="13.5" height="2.4" fill="#000" fill-opacity="0.123"/>
<rect x="70.1" y="282" width="13.5" height="2.4" fill="#000" fill-opacity="0.132"/>
<rect x="69.8" y="284" width="13.5" height="2.4" fill="#000" fill-opacity="0.135"/>
<rect x="69.6" y="286" width="13.5" height="2.4" fill="#000" fill-opacity="0.132"/>
<rect x="69.3" y="288" width="13.5" height="2.4" fill="#000" fill-opacity="0.129"/>
<rect x="69.0" y="290" width="13.5" height="2.4" fill="#000" fill-opacity="0.130"/>
<rect x="68.8" y="292" width="13.5" height="2.4" fill="#000" fill-opacity="0.139"/>
<rect x="68.6" y="294" width="13.5" height="2.4" fill="#000" fill-opacity="0.148"/>
<rect x="68.3" y="296" width="13.5" height="2.4" fill="#000" fill-opacity="0.156"/>
<rect x="68.1" y="298" width="13.5" height="2.4" fill="#000" fill-opacity="0.165"/>
<rect x="67.9" y="300" width="13.5" height="2.4" fill="#000" fill-opacity="0.169"/>
<rect x="67.7" y="302" width="13.5" height="2.4" fill="#000" fill-opacity="0.172"/>
<rect x="67.4" y="304" width="13.5" height="2.4" fill="#000" fill-opacity="0.176"/>
<rect x="67.2" y="306" width="13.5" height="2.4" fill="#000" fill-opacity="0.179"/>
<rect x="67.0" y="308" width="13.5" height="2.4" fill="#000" fill-opacity="0.182"/>
<rect x="66.8" y="310" width="13.5" height="2.4" fill="#000" fill-opacity="0.185"/>
<rect x="66.6" y="312" width="13.5" height="2.4" fill="#000" fill-opacity="0.191"/>
<rect x="66.4" y="314" width="13.5" height="2.4" fill="#000" fill-opacity="0.197"/>
<rect x="66.2" y="316" width="13.5" height="2.4" fill="#000" fill-opacity="0.204"/>
<rect x="66.1" y="318" width="13.5" height="2.4" fill="#000" fill-opacity="0.212"/>
<rect x="65.9" y="320" width="13.5" height="2.4" fill="#000" fill-opacity="0.222"/>
<rect x="65.7" y="322" width="13.5" height="2.4" fill="#000" fill-opacity="0.232"/>
<rect x="65.6" y="324" width="13.5" height="2.4" fill="#000" fill-opacity="0.242"/>
<rect x="65.4" y="326" width="13.5" height="2.4" fill="#000" fill-opacity="0.253"/>
<rect x="65.2" y="328" width="13.5" height="2.4" fill="#000" fill-opacity="0.264"/>
<rect x="65.1" y="330" width="13.5" height="2.4" fill="#000" fill-opacity="0.275"/>
<rect x="64.9" y="332" width="13.5" height="2.4" fill="#000" fill-opacity="0.291"/>
<rect x="64.8" y="334" width="13.5" height="2.4" fill="#000" fill-opacity="0.308"/>
<rect x="64.7" y="336" width="13.5" height="2.4" fill="#000" fill-opacity="0.295"/>
<rect x="64.5" y="338" width="13.5" height="2.4" fill="#000" fill-opacity="0.276"/>
<rect x="64.4" y="340" width="13.5" height="2.4" fill="#000" fill-opacity="0.270"/>
<rect x="64.3" y="342" width="13.5" height="2.4" fill="#000" fill-opacity="0.285"/>
<rect x="64.2" y="344" width="13.5" height="2.4" fill="#000" fill-opacity="0.301"/>
<rect x="64.1" y="346" width="13.5" height="2.4" fill="#000" fill-opacity="0.313"/>
<rect x="63.9" y="348" width="13.5" height="2.4" fill="#000" fill-opacity="0.321"/>
<rect x="63.8" y="350" width="13.5" height="2.4" fill="#000" fill-opacity="0.270"/>
<rect x="63.7" y="352" width="13.5" height="2.4" fill="#000" fill-opacity="0.216"/>
<rect x="63.7" y="354" width="13.5" height="2.4" fill="#000" fill-opacity="0.176"/>
<rect x="63.6" y="356" width="13.5" height="2.4" fill="#000" fill-opacity="0.156"/>
<rect x="63.5" y="358" width="13.5" height="2.4" fill="#000" fill-opacity="0.174"/>
<rect x="63.4" y="360" width="13.5" height="2.4" fill="#000" fill-opacity="0.193"/>
<rect x="63.3" y="362" width="13.5" height="2.4" fill="#000" fill-opacity="0.156"/>
<rect x="63.3" y="364" width="13.5" height="2.4" fill="#000" fill-opacity="0.110"/>
<rect x="63.2" y="366" width="13.5" height="2.4" fill="#000" fill-opacity="0.075"/>
<rect x="63.2" y="368" width="13.5" height="2.4" fill="#000" fill-opacity="0.061"/>
<rect x="63.1" y="370" width="13.5" height="2.4" fill="#000" fill-opacity="0.047"/>
<rect x="63.1" y="372" width="13.5" height="2.4" fill="#000" fill-opacity="0.032"/>
<rect x="63.0" y="374" width="13.5" height="2.4" fill="#000" fill-opacity="0.021"/>
<rect x="63.0" y="376" width="13.5" height="2.4" fill="#000" fill-opacity="0.015"/>
<rect x="62.9" y="378" width="13.5" height="2.4" fill="#000" fill-opacity="0.009"/>
<rect x="87.8" y="266" width="8.3" height="2.4" fill="#000" fill-opacity="0.045"/>
<rect x="87.5" y="268" width="8.3" height="2.4" fill="#000" fill-opacity="0.080"/>
<rect x="87.2" y="270" width="8.3" height="2.4" fill="#000" fill-opacity="0.115"/>
<rect x="86.9" y="272" width="8.3" height="2.4" fill="#000" fill-opacity="0.136"/>
<rect x="86.5" y="274" width="8.3" height="2.4" fill="#000" fill-opacity="0.151"/>
<rect x="86.2" y="276" width="8.3" height="2.4" fill="#000" fill-opacity="0.165"/>
<rect x="85.9" y="278" width="8.3" height="2.4" fill="#000" fill-opacity="0.180"/>
<rect x="85.6" y="280" width="8.3" height="2.4" fill="#000" fill-opacity="0.218"/>
<rect x="85.3" y="282" width="8.3" height="2.4" fill="#000" fill-opacity="0.257"/>
<rect x="85.0" y="284" width="8.3" height="2.4" fill="#000" fill-opacity="0.283"/>
<rect x="84.7" y="286" width="8.3" height="2.4" fill="#000" fill-opacity="0.261"/>
<rect x="84.5" y="288" width="8.3" height="2.4" fill="#000" fill-opacity="0.238"/>
<rect x="84.2" y="290" width="8.3" height="2.4" fill="#000" fill-opacity="0.227"/>
<rect x="83.9" y="292" width="8.3" height="2.4" fill="#000" fill-opacity="0.232"/>
<rect x="83.6" y="294" width="8.3" height="2.4" fill="#000" fill-opacity="0.237"/>
<rect x="83.4" y="296" width="8.3" height="2.4" fill="#000" fill-opacity="0.242"/>
<rect x="83.1" y="298" width="8.3" height="2.4" fill="#000" fill-opacity="0.248"/>
<rect x="82.9" y="300" width="8.3" height="2.4" fill="#000" fill-opacity="0.254"/>
<rect x="82.6" y="302" width="8.3" height="2.4" fill="#000" fill-opacity="0.261"/>
<rect x="82.4" y="304" width="8.3" height="2.4" fill="#000" fill-opacity="0.267"/>
<rect x="82.2" y="306" width="8.3" height="2.4" fill="#000" fill-opacity="0.283"/>
<rect x="81.9" y="308" width="8.3" height="2.4" fill="#000" fill-opacity="0.305"/>
<rect x="81.7" y="310" width="8.3" height="2.4" fill="#000" fill-opacity="0.326"/>
<rect x="81.5" y="312" width="8.3" height="2.4" fill="#000" fill-opacity="0.348"/>
<rect x="81.3" y="314" width="8.3" height="2.4" fill="#000" fill-opacity="0.369"/>
<rect x="81.1" y="316" width="8.3" height="2.4" fill="#000" fill-opacity="0.402"/>
<rect x="80.9" y="318" width="8.3" height="2.4" fill="#000" fill-opacity="0.441"/>
<rect x="80.7" y="320" width="8.3" height="2.4" fill="#000" fill-opacity="0.481"/>
<rect x="80.5" y="322" width="8.3" height="2.4" fill="#000" fill-opacity="0.521"/>
<rect x="80.3" y="324" width="8.3" height="2.4" fill="#000" fill-opacity="0.560"/>
<rect x="80.1" y="326" width="8.3" height="2.4" fill="#000" fill-opacity="0.596"/>
<rect x="80.0" y="328" width="8.3" height="2.4" fill="#000" fill-opacity="0.629"/>
<rect x="79.8" y="330" width="8.3" height="2.4" fill="#000" fill-opacity="0.663"/>
<rect x="79.6" y="332" width="8.3" height="2.4" fill="#000" fill-opacity="0.696"/>
<rect x="79.5" y="334" width="8.3" height="2.4" fill="#000" fill-opacity="0.723"/>
<rect x="79.3" y="336" width="8.3" height="2.4" fill="#000" fill-opacity="0.744"/>
<rect x="79.2" y="338" width="8.3" height="2.4" fill="#000" fill-opacity="0.715"/>
<rect x="79.1" y="340" width="8.3" height="2.4" fill="#000" fill-opacity="0.687"/>
<rect x="78.9" y="342" width="8.3" height="2.4" fill="#000" fill-opacity="0.673"/>
<rect x="78.8" y="344" width="8.3" height="2.4" fill="#000" fill-opacity="0.669"/>
<rect x="78.7" y="346" width="8.3" height="2.4" fill="#000" fill-opacity="0.669"/>
<rect x="78.6" y="348" width="8.3" height="2.4" fill="#000" fill-opacity="0.696"/>
<rect x="78.4" y="350" width="8.3" height="2.4" fill="#000" fill-opacity="0.707"/>
<rect x="78.3" y="352" width="8.3" height="2.4" fill="#000" fill-opacity="0.572"/>
<rect x="78.2" y="354" width="8.3" height="2.4" fill="#000" fill-opacity="0.444"/>
<rect x="78.1" y="356" width="8.3" height="2.4" fill="#000" fill-opacity="0.381"/>
<rect x="78.0" y="358" width="8.3" height="2.4" fill="#000" fill-opacity="0.326"/>
<rect x="78.0" y="360" width="8.3" height="2.4" fill="#000" fill-opacity="0.350"/>
<rect x="77.9" y="362" width="8.3" height="2.4" fill="#000" fill-opacity="0.374"/>
<rect x="77.8" y="364" width="8.3" height="2.4" fill="#000" fill-opacity="0.310"/>
<rect x="77.7" y="366" width="8.3" height="2.4" fill="#000" fill-opacity="0.230"/>
<rect x="77.7" y="368" width="8.3" height="2.4" fill="#000" fill-opacity="0.171"/>
<rect x="77.6" y="370" width="8.3" height="2.4" fill="#000" fill-opacity="0.126"/>
<rect x="77.6" y="372" width="8.3" height="2.4" fill="#000" fill-opacity="0.081"/>
<rect x="77.5" y="374" width="8.3" height="2.4" fill="#000" fill-opacity="0.057"/>
<rect x="77.5" y="376" width="8.3" height="2.4" fill="#000" fill-opacity="0.047"/>
<rect x="77.4" y="378" width="8.3" height="2.4" fill="#000" fill-opacity="0.037"/>
<rect x="77.4" y="380" width="8.3" height="2.4" fill="#000" fill-opacity="0.027"/>
<rect x="77.4" y="382" width="8.3" height="2.4" fill="#000" fill-opacity="0.017"/>
<rect x="97.5" y="266" width="9" height="2.4" fill="#000" fill-opacity="0.029"/>
<rect x="97.2" y="268" width="9" height="2.4" fill="#000" fill-opacity="0.050"/>
<rect x="96.9" y="270" width="9" height="2.4" fill="#000" fill-opacity="0.070"/>
<rect x="96.6" y="272" width="9" height="2.4" fill="#000" fill-opacity="0.083"/>
<rect x="96.4" y="274" width="9" height="2.4" fill="#000" fill-opacity="0.092"/>
<rect x="96.1" y="276" width="9" height="2.4" fill="#000" fill-opacity="0.101"/>
<rect x="95.8" y="278" width="9" height="2.4" fill="#000" fill-opacity="0.109"/>
<rect x="95.6" y="280" width="9" height="2.4" fill="#000" fill-opacity="0.118"/>
<rect x="95.3" y="282" width="9" height="2.4" fill="#000" fill-opacity="0.126"/>
<rect x="95.1" y="284" width="9" height="2.4" fill="#000" fill-opacity="0.135"/>
<rect x="94.8" y="286" width="9" height="2.4" fill="#000" fill-opacity="0.135"/>
<rect x="94.6" y="288" width="9" height="2.4" fill="#000" fill-opacity="0.132"/>
<rect x="94.3" y="290" width="9" height="2.4" fill="#000" fill-opacity="0.129"/>
<rect x="94.1" y="292" width="9" height="2.4" fill="#000" fill-opacity="0.130"/>
<rect x="93.9" y="294" width="9" height="2.4" fill="#000" fill-opacity="0.138"/>
<rect x="93.7" y="296" width="9" height="2.4" fill="#000" fill-opacity="0.147"/>
<rect x="93.5" y="298" width="9" height="2.4" fill="#000" fill-opacity="0.155"/>
<rect x="93.2" y="300" width="9" height="2.4" fill="#000" fill-opacity="0.163"/>
<rect x="93.0" y="302" width="9" height="2.4" fill="#000" fill-opacity="0.168"/>
<rect x="92.8" y="304" width="9" height="2.4" fill="#000" fill-opacity="0.171"/>
<rect x="92.6" y="306" width="9" height="2.4" fill="#000" fill-opacity="0.174"/>
<rect x="92.4" y="308" width="9" height="2.4" fill="#000" fill-opacity="0.177"/>
<rect x="92.2" y="310" width="9" height="2.4" fill="#000" fill-opacity="0.180"/>
<rect x="92.1" y="312" width="9" height="2.4" fill="#000" fill-opacity="0.186"/>
<rect x="91.9" y="314" width="9" height="2.4" fill="#000" fill-opacity="0.192"/>
<rect x="91.7" y="316" width="9" height="2.4" fill="#000" fill-opacity="0.199"/>
<rect x="91.5" y="318" width="9" height="2.4" fill="#000" fill-opacity="0.205"/>
<rect x="91.4" y="320" width="9" height="2.4" fill="#000" fill-opacity="0.212"/>
<rect x="91.2" y="322" width="9" height="2.4" fill="#000" fill-opacity="0.221"/>
<rect x="91.0" y="324" width="9" height="2.4" fill="#000" fill-opacity="0.231"/>
<rect x="90.9" y="326" width="9" height="2.4" fill="#000" fill-opacity="0.241"/>
<rect x="90.7" y="328" width="9" height="2.4" fill="#000" fill-opacity="0.252"/>
<rect x="90.6" y="330" width="9" height="2.4" fill="#000" fill-opacity="0.263"/>
<rect x="90.5" y="332" width="9" height="2.4" fill="#000" fill-opacity="0.270"/>
<rect x="90.3" y="334" width="9" height="2.4" fill="#000" fill-opacity="0.279"/>
<rect x="90.2" y="336" width="9" height="2.4" fill="#000" fill-opacity="0.296"/>
<rect x="90.1" y="338" width="9" height="2.4" fill="#000" fill-opacity="0.308"/>
<rect x="90.0" y="340" width="9" height="2.4" fill="#000" fill-opacity="0.289"/>
<rect x="89.8" y="342" width="9" height="2.4" fill="#000" fill-opacity="0.271"/>
<rect x="89.7" y="344" width="9" height="2.4" fill="#000" fill-opacity="0.274"/>
<rect x="89.6" y="346" width="9" height="2.4" fill="#000" fill-opacity="0.290"/>
<rect x="89.5" y="348" width="9" height="2.4" fill="#000" fill-opacity="0.305"/>
<rect x="89.4" y="350" width="9" height="2.4" fill="#000" fill-opacity="0.315"/>
<rect x="89.3" y="352" width="9" height="2.4" fill="#000" fill-opacity="0.313"/>
<rect x="89.3" y="354" width="9" height="2.4" fill="#000" fill-opacity="0.251"/>
<rect x="89.2" y="356" width="9" height="2.4" fill="#000" fill-opacity="0.204"/>
<rect x="89.1" y="358" width="9" height="2.4" fill="#000" fill-opacity="0.164"/>
<rect x="89.0" y="360" width="9" height="2.4" fill="#000" fill-opacity="0.161"/>
<rect x="89.0" y="362" width="9" height="2.4" fill="#000" fill-opacity="0.180"/>
<rect x="88.9" y="364" width="9" height="2.4" fill="#000" fill-opacity="0.189"/>
<rect x="88.8" y="366" width="9" height="2.4" fill="#000" fill-opacity="0.143"/>
<rect x="88.8" y="368" width="9" height="2.4" fill="#000" fill-opacity="0.097"/>
<rect x="88.7" y="370" width="9" height="2.4" fill="#000" fill-opacity="0.071"/>
<rect x="88.7" y="372" width="9" height="2.4" fill="#000" fill-opacity="0.057"/>
<rect x="88.6" y="374" width="9" height="2.4" fill="#000" fill-opacity="0.042"/>
<rect x="88.6" y="376" width="9" height="2.4" fill="#000" fill-opacity="0.028"/>
<rect x="88.6" y="378" width="9" height="2.4" fill="#000" fill-opacity="0.019"/>
<rect x="88.6" y="380" width="9" height="2.4" fill="#000" fill-opacity="0.014"/>
<rect x="88.5" y="382" width="9" height="2.4" fill="#000" fill-opacity="0.008"/>
<rect x="109.1" y="266" width="6" height="2.4" fill="#000" fill-opacity="0.031"/>
<rect x="108.9" y="268" width="6" height="2.4" fill="#000" fill-opacity="0.054"/>
<rect x="108.6" y="270" width="6" height="2.4" fill="#000" fill-opacity="0.076"/>
<rect x="108.4" y="272" width="6" height="2.4" fill="#000" fill-opacity="0.092"/>
<rect x="108.2" y="274" width="6" height="2.4" fill="#000" fill-opacity="0.101"/>
<rect x="107.9" y="276" width="6" height="2.4" fill="#000" fill-opacity="0.111"/>
<rect x="107.7" y="278" width="6" height="2.4" fill="#000" fill-opacity="0.120"/>
<rect x="107.5" y="280" width="6" height="2.4" fill="#000" fill-opacity="0.139"/>
<rect x="107.3" y="282" width="6" height="2.4" fill="#000" fill-opacity="0.164"/>
<rect x="107.1" y="284" width="6" height="2.4" fill="#000" fill-opacity="0.189"/>
<rect x="106.9" y="286" width="6" height="2.4" fill="#000" fill-opacity="0.189"/>
<rect x="106.7" y="288" width="6" height="2.4" fill="#000" fill-opacity="0.175"/>
<rect x="106.5" y="290" width="6" height="2.4" fill="#000" fill-opacity="0.160"/>
<rect x="106.3" y="292" width="6" height="2.4" fill="#000" fill-opacity="0.157"/>
<rect x="106.1" y="294" width="6" height="2.4" fill="#000" fill-opacity="0.160"/>
<rect x="105.9" y="296" width="6" height="2.4" fill="#000" fill-opacity="0.163"/>
<rect x="105.7" y="298" width="6" height="2.4" fill="#000" fill-opacity="0.166"/>
<rect x="105.5" y="300" width="6" height="2.4" fill="#000" fill-opacity="0.170"/>
<rect x="105.4" y="302" width="6" height="2.4" fill="#000" fill-opacity="0.175"/>
<rect x="105.2" y="304" width="6" height="2.4" fill="#000" fill-opacity="0.179"/>
<rect x="105.0" y="306" width="6" height="2.4" fill="#000" fill-opacity="0.183"/>
<rect x="104.9" y="308" width="6" height="2.4" fill="#000" fill-opacity="0.190"/>
<rect x="104.7" y="310" width="6" height="2.4" fill="#000" fill-opacity="0.205"/>
<rect x="104.6" y="312" width="6" height="2.4" fill="#000" fill-opacity="0.219"/>
<rect x="104.4" y="314" width="6" height="2.4" fill="#000" fill-opacity="0.234"/>
<rect x="104.3" y="316" width="6" height="2.4" fill="#000" fill-opacity="0.249"/>
<rect x="104.1" y="318" width="6" height="2.4" fill="#000" fill-opacity="0.267"/>
<rect x="104.0" y="320" width="6" height="2.4" fill="#000" fill-opacity="0.294"/>
<rect x="103.9" y="322" width="6" height="2.4" fill="#000" fill-opacity="0.322"/>
<rect x="103.7" y="324" width="6" height="2.4" fill="#000" fill-opacity="0.349"/>
<rect x="103.6" y="326" width="6" height="2.4" fill="#000" fill-opacity="0.376"/>
<rect x="103.5" y="328" width="6" height="2.4" fill="#000" fill-opacity="0.403"/>
<rect x="103.4" y="330" width="6" height="2.4" fill="#000" fill-opacity="0.426"/>
<rect x="103.2" y="332" width="6" height="2.4" fill="#000" fill-opacity="0.449"/>
<rect x="103.1" y="334" width="6" height="2.4" fill="#000" fill-opacity="0.472"/>
<rect x="103.0" y="336" width="6" height="2.4" fill="#000" fill-opacity="0.491"/>
<rect x="102.9" y="338" width="6" height="2.4" fill="#000" fill-opacity="0.510"/>
<rect x="102.8" y="340" width="6" height="2.4" fill="#000" fill-opacity="0.500"/>
<rect x="102.7" y="342" width="6" height="2.4" fill="#000" fill-opacity="0.480"/>
<rect x="102.6" y="344" width="6" height="2.4" fill="#000" fill-opacity="0.464"/>
<rect x="102.5" y="346" width="6" height="2.4" fill="#000" fill-opacity="0.462"/>
<rect x="102.5" y="348" width="6" height="2.4" fill="#000" fill-opacity="0.459"/>
<rect x="102.4" y="350" width="6" height="2.4" fill="#000" fill-opacity="0.473"/>
<rect x="102.3" y="352" width="6" height="2.4" fill="#000" fill-opacity="0.491"/>
<rect x="102.2" y="354" width="6" height="2.4" fill="#000" fill-opacity="0.426"/>
<rect x="102.2" y="356" width="6" height="2.4" fill="#000" fill-opacity="0.333"/>
<rect x="102.1" y="358" width="6" height="2.4" fill="#000" fill-opacity="0.277"/>
<rect x="102.0" y="360" width="6" height="2.4" fill="#000" fill-opacity="0.234"/>
<rect x="102.0" y="362" width="6" height="2.4" fill="#000" fill-opacity="0.236"/>
<rect x="101.9" y="364" width="6" height="2.4" fill="#000" fill-opacity="0.252"/>
<rect x="101.9" y="366" width="6" height="2.4" fill="#000" fill-opacity="0.233"/>
<rect x="101.8" y="368" width="6" height="2.4" fill="#000" fill-opacity="0.178"/>
<rect x="101.8" y="370" width="6" height="2.4" fill="#000" fill-opacity="0.129"/>
<rect x="101.8" y="372" width="6" height="2.4" fill="#000" fill-opacity="0.098"/>
<rect x="101.7" y="374" width="6" height="2.4" fill="#000" fill-opacity="0.067"/>
<rect x="101.7" y="376" width="6" height="2.4" fill="#000" fill-opacity="0.042"/>
<rect x="101.7" y="378" width="6" height="2.4" fill="#000" fill-opacity="0.035"/>
<rect x="101.6" y="380" width="6" height="2.4" fill="#000" fill-opacity="0.028"/>
<rect x="101.6" y="382" width="6" height="2.4" fill="#000" fill-opacity="0.021"/>
<rect x="117.8" y="266" width="9" height="2.4" fill="#000" fill-opacity="0.029"/>
<rect x="117.6" y="268" width="9" height="2.4" fill="#000" fill-opacity="0.049"/>
<rect x="117.4" y="270" width="9" height="2.4" fill="#000" fill-opacity="0.068"/>
<rect x="117.2" y="272" width="9" height="2.4" fill="#000" fill-opacity="0.082"/>
<rect x="117.0" y="274" width="9" height="2.4" fill="#000" fill-opacity="0.091"/>
<rect x="116.9" y="276" width="9" height="2.4" fill="#000" fill-opacity="0.099"/>
<rect x="116.7" y="278" width="9" height="2.4" fill="#000" fill-opacity="0.108"/>
<rect x="116.5" y="280" width="9" height="2.4" fill="#000" fill-opacity="0.116"/>
<rect x="116.3" y="282" width="9" height="2.4" fill="#000" fill-opacity="0.124"/>
<rect x="116.2" y="284" width="9" height="2.4" fill="#000" fill-opacity="0.133"/>
<rect x="116.0" y="286" width="9" height="2.4" fill="#000" fill-opacity="0.135"/>
<rect x="115.9" y="288" width="9" height="2.4" fill="#000" fill-opacity="0.133"/>
<rect x="115.7" y="290" width="9" height="2.4" fill="#000" fill-opacity="0.130"/>
<rect x="115.5" y="292" width="9" height="2.4" fill="#000" fill-opacity="0.127"/>
<rect x="115.4" y="294" width="9" height="2.4" fill="#000" fill-opacity="0.135"/>
<rect x="115.2" y="296" width="9" height="2.4" fill="#000" fill-opacity="0.143"/>
<rect x="115.1" y="298" width="9" height="2.4" fill="#000" fill-opacity="0.151"/>
<rect x="115.0" y="300" width="9" height="2.4" fill="#000" fill-opacity="0.158"/>
<rect x="114.8" y="302" width="9" height="2.4" fill="#000" fill-opacity="0.166"/>
<rect x="114.7" y="304" width="9" height="2.4" fill="#000" fill-opacity="0.169"/>
<rect x="114.6" y="306" width="9" height="2.4" fill="#000" fill-opacity="0.172"/>
<rect x="114.4" y="308" width="9" height="2.4" fill="#000" fill-opacity="0.175"/>
<rect x="114.3" y="310" width="9" height="2.4" fill="#000" fill-opacity="0.178"/>
<rect x="114.2" y="312" width="9" height="2.4" fill="#000" fill-opacity="0.184"/>
<rect x="114.1" y="314" width="9" height="2.4" fill="#000" fill-opacity="0.190"/>
<rect x="113.9" y="316" width="9" height="2.4" fill="#000" fill-opacity="0.197"/>
<rect x="113.8" y="318" width="9" height="2.4" fill="#000" fill-opacity="0.203"/>
<rect x="113.7" y="320" width="9" height="2.4" fill="#000" fill-opacity="0.210"/>
<rect x="113.6" y="322" width="9" height="2.4" fill="#000" fill-opacity="0.216"/>
<rect x="113.5" y="324" width="9" height="2.4" fill="#000" fill-opacity="0.226"/>
<rect x="113.4" y="326" width="9" height="2.4" fill="#000" fill-opacity="0.237"/>
<rect x="113.3" y="328" width="9" height="2.4" fill="#000" fill-opacity="0.247"/>
<rect x="113.2" y="330" width="9" height="2.4" fill="#000" fill-opacity="0.258"/>
<rect x="113.1" y="332" width="9" height="2.4" fill="#000" fill-opacity="0.265"/>
<rect x="113.0" y="334" width="9" height="2.4" fill="#000" fill-opacity="0.272"/>
<rect x="112.9" y="336" width="9" height="2.4" fill="#000" fill-opacity="0.285"/>
<rect x="112.9" y="338" width="9" height="2.4" fill="#000" fill-opacity="0.302"/>
<rect x="112.8" y="340" width="9" height="2.4" fill="#000" fill-opacity="0.301"/>
<rect x="112.7" y="342" width="9" height="2.4" fill="#000" fill-opacity="0.283"/>
<rect x="112.6" y="344" width="9" height="2.4" fill="#000" fill-opacity="0.265"/>
<rect x="112.6" y="346" width="9" height="2.4" fill="#000" fill-opacity="0.280"/>
<rect x="112.5" y="348" width="9" height="2.4" fill="#000" fill-opacity="0.295"/>
<rect x="112.4" y="350" width="9" height="2.4" fill="#000" fill-opacity="0.310"/>
<rect x="112.4" y="352" width="9" height="2.4" fill="#000" fill-opacity="0.318"/>
<rect x="112.3" y="354" width="9" height="2.4" fill="#000" fill-opacity="0.291"/>
<rect x="112.3" y="356" width="9" height="2.4" fill="#000" fill-opacity="0.230"/>
<rect x="112.2" y="358" width="9" height="2.4" fill="#000" fill-opacity="0.190"/>
<rect x="112.2" y="360" width="9" height="2.4" fill="#000" fill-opacity="0.149"/>
<rect x="112.1" y="362" width="9" height="2.4" fill="#000" fill-opacity="0.168"/>
<rect x="112.1" y="364" width="9" height="2.4" fill="#000" fill-opacity="0.186"/>
<rect x="112.0" y="366" width="9" height="2.4" fill="#000" fill-opacity="0.173"/>
<rect x="112.0" y="368" width="9" height="2.4" fill="#000" fill-opacity="0.127"/>
<rect x="112.0" y="370" width="9" height="2.4" fill="#000" fill-opacity="0.081"/>
<rect x="111.9" y="372" width="9" height="2.4" fill="#000" fill-opacity="0.066"/>
<rect x="111.9" y="374" width="9" height="2.4" fill="#000" fill-opacity="0.052"/>
<rect x="111.9" y="376" width="9" height="2.4" fill="#000" fill-opacity="0.037"/>
<rect x="111.9" y="378" width="9" height="2.4" fill="#000" fill-opacity="0.023"/>
<rect x="111.8" y="380" width="9" height="2.4" fill="#000" fill-opacity="0.017"/>
<rect x="111.8" y="382" width="9" height="2.4" fill="#000" fill-opacity="0.011"/>
<rect x="129.0" y="266" width="6" height="2.4" fill="#000" fill-opacity="0.031"/>
<rect x="128.9" y="268" width="6" height="2.4" fill="#000" fill-opacity="0.053"/>
<rect x="128.7" y="270" width="6" height="2.4" fill="#000" fill-opacity="0.076"/>
<rect x="128.6" y="272" width="6" height="2.4" fill="#000" fill-opacity="0.091"/>
<rect x="128.4" y="274" width="6" height="2.4" fill="#000" fill-opacity="0.101"/>
<rect x="128.3" y="276" width="6" height="2.4" fill="#000" fill-opacity="0.110"/>
<rect x="128.2" y="278" width="6" height="2.4" fill="#000" fill-opacity="0.119"/>
<rect x="128.0" y="280" width="6" height="2.4" fill="#000" fill-opacity="0.136"/>
<rect x="127.9" y="282" width="6" height="2.4" fill="#000" fill-opacity="0.161"/>
<rect x="127.8" y="284" width="6" height="2.4" fill="#000" fill-opacity="0.186"/>
<rect x="127.7" y="286" width="6" height="2.4" fill="#000" fill-opacity="0.191"/>
<rect x="127.5" y="288" width="6" height="2.4" fill="#000" fill-opacity="0.177"/>
<rect x="127.4" y="290" width="6" height="2.4" fill="#000" fill-opacity="0.162"/>
<rect x="127.3" y="292" width="6" height="2.4" fill="#000" fill-opacity="0.157"/>
<rect x="127.2" y="294" width="6" height="2.4" fill="#000" fill-opacity="0.160"/>
<rect x="127.1" y="296" width="6" height="2.4" fill="#000" fill-opacity="0.163"/>
<rect x="127.0" y="298" width="6" height="2.4" fill="#000" fill-opacity="0.166"/>
<rect x="126.9" y="300" width="6" height="2.4" fill="#000" fill-opacity="0.169"/>
<rect x="126.8" y="302" width="6" height="2.4" fill="#000" fill-opacity="0.174"/>
<rect x="126.7" y="304" width="6" height="2.4" fill="#000" fill-opacity="0.178"/>
<rect x="126.6" y="306" width="6" height="2.4" fill="#000" fill-opacity="0.182"/>
<rect x="126.5" y="308" width="6" height="2.4" fill="#000" fill-opacity="0.186"/>
<rect x="126.4" y="310" width="6" height="2.4" fill="#000" fill-opacity="0.201"/>
<rect x="126.3" y="312" width="6" height="2.4" fill="#000" fill-opacity="0.216"/>
<rect x="126.2" y="314" width="6" height="2.4" fill="#000" fill-opacity="0.231"/>
<rect x="126.1" y="316" width="6" height="2.4" fill="#000" fill-opacity="0.246"/>
<rect x="126.0" y="318" width="6" height="2.4" fill="#000" fill-opacity="0.260"/>
<rect x="125.9" y="320" width="6" height="2.4" fill="#000" fill-opacity="0.288"/>
<rect x="125.9" y="322" width="6" height="2.4" fill="#000" fill-opacity="0.315"/>
<rect x="125.8" y="324" width="6" height="2.4" fill="#000" fill-opacity="0.342"/>
<rect x="125.7" y="326" width="6" height="2.4" fill="#000" fill-opacity="0.370"/>
<rect x="125.6" y="328" width="6" height="2.4" fill="#000" fill-opacity="0.397"/>
<rect x="125.6" y="330" width="6" height="2.4" fill="#000" fill-opacity="0.420"/>
<rect x="125.5" y="332" width="6" height="2.4" fill="#000" fill-opacity="0.443"/>
<rect x="125.4" y="334" width="6" height="2.4" fill="#000" fill-opacity="0.466"/>
<rect x="125.4" y="336" width="6" height="2.4" fill="#000" fill-opacity="0.487"/>
<rect x="125.3" y="338" width="6" height="2.4" fill="#000" fill-opacity="0.505"/>
<rect x="125.2" y="340" width="6" height="2.4" fill="#000" fill-opacity="0.505"/>
<rect x="125.2" y="342" width="6" height="2.4" fill="#000" fill-opacity="0.485"/>
<rect x="125.1" y="344" width="6" height="2.4" fill="#000" fill-opacity="0.465"/>
<rect x="125.1" y="346" width="6" height="2.4" fill="#000" fill-opacity="0.463"/>
<rect x="125.0" y="348" width="6" height="2.4" fill="#000" fill-opacity="0.460"/>
<rect x="125.0" y="350" width="6" height="2.4" fill="#000" fill-opacity="0.468"/>
<rect x="124.9" y="352" width="6" height="2.4" fill="#000" fill-opacity="0.487"/>
<rect x="124.9" y="354" width="6" height="2.4" fill="#000" fill-opacity="0.450"/>
<rect x="124.8" y="356" width="6" height="2.4" fill="#000" fill-opacity="0.356"/>
<rect x="124.8" y="358" width="6" height="2.4" fill="#000" fill-opacity="0.288"/>
<rect x="124.8" y="360" width="6" height="2.4" fill="#000" fill-opacity="0.245"/>
<rect x="124.7" y="362" width="6" height="2.4" fill="#000" fill-opacity="0.231"/>
<rect x="124.7" y="364" width="6" height="2.4" fill="#000" fill-opacity="0.248"/>
<rect x="124.7" y="366" width="6" height="2.4" fill="#000" fill-opacity="0.247"/>
<rect x="124.6" y="368" width="6" height="2.4" fill="#000" fill-opacity="0.192"/>
<rect x="124.6" y="370" width="6" height="2.4" fill="#000" fill-opacity="0.136"/>
<rect x="124.6" y="372" width="6" height="2.4" fill="#000" fill-opacity="0.105"/>
<rect x="124.6" y="374" width="6" height="2.4" fill="#000" fill-opacity="0.074"/>
<rect x="124.6" y="376" width="6" height="2.4" fill="#000" fill-opacity="0.043"/>
<rect x="124.5" y="378" width="6" height="2.4" fill="#000" fill-opacity="0.037"/>
<rect x="124.5" y="380" width="6" height="2.4" fill="#000" fill-opacity="0.030"/>
<rect x="124.5" y="382" width="6" height="2.4" fill="#000" fill-opacity="0.023"/>
<rect x="137.3" y="266" width="9" height="2.4" fill="#000" fill-opacity="0.029"/>
<rect x="137.2" y="268" width="9" height="2.4" fill="#000" fill-opacity="0.049"/>
<rect x="137.1" y="270" width="9" height="2.4" fill="#000" fill-opacity="0.068"/>
<rect x="137.0" y="272" width="9" height="2.4" fill="#000" fill-opacity="0.082"/>
<rect x="136.9" y="274" width="9" height="2.4" fill="#000" fill-opacity="0.091"/>
<rect x="136.8" y="276" width="9" height="2.4" fill="#000" fill-opacity="0.099"/>
<rect x="136.7" y="278" width="9" height="2.4" fill="#000" fill-opacity="0.108"/>
<rect x="136.7" y="280" width="9" height="2.4" fill="#000" fill-opacity="0.116"/>
<rect x="136.6" y="282" width="9" height="2.4" fill="#000" fill-opacity="0.124"/>
<rect x="136.5" y="284" width="9" height="2.4" fill="#000" fill-opacity="0.133"/>
<rect x="136.4" y="286" width="9" height="2.4" fill="#000" fill-opacity="0.135"/>
<rect x="136.3" y="288" width="9" height="2.4" fill="#000" fill-opacity="0.133"/>
<rect x="136.2" y="290" width="9" height="2.4" fill="#000" fill-opacity="0.130"/>
<rect x="136.2" y="292" width="9" height="2.4" fill="#000" fill-opacity="0.127"/>
<rect x="136.1" y="294" width="9" height="2.4" fill="#000" fill-opacity="0.135"/>
<rect x="136.0" y="296" width="9" height="2.4" fill="#000" fill-opacity="0.143"/>
<rect x="136.0" y="298" width="9" height="2.4" fill="#000" fill-opacity="0.151"/>
<rect x="135.9" y="300" width="9" height="2.4" fill="#000" fill-opacity="0.158"/>
<rect x="135.8" y="302" width="9" height="2.4" fill="#000" fill-opacity="0.166"/>
<rect x="135.7" y="304" width="9" height="2.4" fill="#000" fill-opacity="0.169"/>
<rect x="135.7" y="306" width="9" height="2.4" fill="#000" fill-opacity="0.172"/>
<rect x="135.6" y="308" width="9" height="2.4" fill="#000" fill-opacity="0.175"/>
<rect x="135.5" y="310" width="9" height="2.4" fill="#000" fill-opacity="0.178"/>
<rect x="135.5" y="312" width="9" height="2.4" fill="#000" fill-opacity="0.184"/>
<rect x="135.4" y="314" width="9" height="2.4" fill="#000" fill-opacity="0.190"/>
<rect x="135.4" y="316" width="9" height="2.4" fill="#000" fill-opacity="0.197"/>
<rect x="135.3" y="318" width="9" height="2.4" fill="#000" fill-opacity="0.203"/>
<rect x="135.3" y="320" width="9" height="2.4" fill="#000" fill-opacity="0.210"/>
<rect x="135.2" y="322" width="9" height="2.4" fill="#000" fill-opacity="0.216"/>
<rect x="135.1" y="324" width="9" height="2.4" fill="#000" fill-opacity="0.226"/>
<rect x="135.1" y="326" width="9" height="2.4" fill="#000" fill-opacity="0.237"/>
<rect x="135.0" y="328" width="9" height="2.4" fill="#000" fill-opacity="0.247"/>
<rect x="135.0" y="330" width="9" height="2.4" fill="#000" fill-opacity="0.258"/>
<rect x="135.0" y="332" width="9" height="2.4" fill="#000" fill-opacity="0.265"/>
<rect x="134.9" y="334" width="9" height="2.4" fill="#000" fill-opacity="0.272"/>
<rect x="134.9" y="336" width="9" height="2.4" fill="#000" fill-opacity="0.285"/>
<rect x="134.8" y="338" width="9" height="2.4" fill="#000" fill-opacity="0.302"/>
<rect x="134.8" y="340" width="9" height="2.4" fill="#000" fill-opacity="0.301"/>
<rect x="134.7" y="342" width="9" height="2.4" fill="#000" fill-opacity="0.283"/>
<rect x="134.7" y="344" width="9" height="2.4" fill="#000" fill-opacity="0.265"/>
<rect x="134.7" y="346" width="9" height="2.4" fill="#000" fill-opacity="0.280"/>
<rect x="134.6" y="348" width="9" height="2.4" fill="#000" fill-opacity="0.295"/>
<rect x="134.6" y="350" width="9" height="2.4" fill="#000" fill-opacity="0.310"/>
<rect x="134.6" y="352" width="9" height="2.4" fill="#000" fill-opacity="0.318"/>
<rect x="134.6" y="354" width="9" height="2.4" fill="#000" fill-opacity="0.291"/>
<rect x="134.5" y="356" width="9" height="2.4" fill="#000" fill-opacity="0.230"/>
<rect x="134.5" y="358" width="9" height="2.4" fill="#000" fill-opacity="0.190"/>
<rect x="134.5" y="360" width="9" height="2.4" fill="#000" fill-opacity="0.149"/>
<rect x="134.5" y="362" width="9" height="2.4" fill="#000" fill-opacity="0.168"/>
<rect x="134.4" y="364" width="9" height="2.4" fill="#000" fill-opacity="0.186"/>
<rect x="134.4" y="366" width="9" height="2.4" fill="#000" fill-opacity="0.173"/>
<rect x="134.4" y="368" width="9" height="2.4" fill="#000" fill-opacity="0.127"/>
<rect x="134.4" y="370" width="9" height="2.4" fill="#000" fill-opacity="0.081"/>
<rect x="134.4" y="372" width="9" height="2.4" fill="#000" fill-opacity="0.066"/>
<rect x="134.3" y="374" width="9" height="2.4" fill="#000" fill-opacity="0.052"/>
<rect x="134.3" y="376" width="9" height="2.4" fill="#000" fill-opacity="0.037"/>
<rect x="134.3" y="378" width="9" height="2.4" fill="#000" fill-opacity="0.023"/>
<rect x="134.3" y="380" width="9" height="2.4" fill="#000" fill-opacity="0.017"/>
<rect x="134.3" y="382" width="9" height="2.4" fill="#000" fill-opacity="0.011"/>
<rect x="148.9" y="266" width="6" height="2.4" fill="#000" fill-opacity="0.033"/>
<rect x="148.9" y="268" width="6" height="2.4" fill="#000" fill-opacity="0.056"/>
<rect x="148.8" y="270" width="6" height="2.4" fill="#000" fill-opacity="0.080"/>
<rect x="148.8" y="272" width="6" height="2.4" fill="#000" fill-opacity="0.097"/>
<rect x="148.7" y="274" width="6" height="2.4" fill="#000" fill-opacity="0.107"/>
<rect x="148.7" y="276" width="6" height="2.4" fill="#000" fill-opacity="0.117"/>
<rect x="148.6" y="278" width="6" height="2.4" fill="#000" fill-opacity="0.126"/>
<rect x="148.6" y="280" width="6" height="2.4" fill="#000" fill-opacity="0.143"/>
<rect x="148.5" y="282" width="6" height="2.4" fill="#000" fill-opacity="0.169"/>
<rect x="148.5" y="284" width="6" height="2.4" fill="#000" fill-opacity="0.195"/>
<rect x="148.5" y="286" width="6" height="2.4" fill="#000" fill-opacity="0.205"/>
<rect x="148.4" y="288" width="6" height="2.4" fill="#000" fill-opacity="0.190"/>
<rect x="148.4" y="290" width="6" height="2.4" fill="#000" fill-opacity="0.175"/>
<rect x="148.3" y="292" width="6" height="2.4" fill="#000" fill-opacity="0.166"/>
<rect x="148.3" y="294" width="6" height="2.4" fill="#000" fill-opacity="0.169"/>
<rect x="148.3" y="296" width="6" height="2.4" fill="#000" fill-opacity="0.173"/>
<rect x="148.2" y="298" width="6" height="2.4" fill="#000" fill-opacity="0.176"/>
<rect x="148.2" y="300" width="6" height="2.4" fill="#000" fill-opacity="0.179"/>
<rect x="148.2" y="302" width="6" height="2.4" fill="#000" fill-opacity="0.184"/>
<rect x="148.1" y="304" width="6" height="2.4" fill="#000" fill-opacity="0.188"/>
<rect x="148.1" y="306" width="6" height="2.4" fill="#000" fill-opacity="0.193"/>
<rect x="148.1" y="308" width="6" height="2.4" fill="#000" fill-opacity="0.197"/>
<rect x="148.0" y="310" width="6" height="2.4" fill="#000" fill-opacity="0.210"/>
<rect x="148.0" y="312" width="6" height="2.4" fill="#000" fill-opacity="0.226"/>
<rect x="148.0" y="314" width="6" height="2.4" fill="#000" fill-opacity="0.242"/>
<rect x="147.9" y="316" width="6" height="2.4" fill="#000" fill-opacity="0.257"/>
<rect x="147.9" y="318" width="6" height="2.4" fill="#000" fill-opacity="0.273"/>
<rect x="147.9" y="320" width="6" height="2.4" fill="#000" fill-opacity="0.299"/>
<rect x="147.9" y="322" width="6" height="2.4" fill="#000" fill-opacity="0.328"/>
<rect x="147.8" y="324" width="6" height="2.4" fill="#000" fill-opacity="0.357"/>
<rect x="147.8" y="326" width="6" height="2.4" fill="#000" fill-opacity="0.386"/>
<rect x="147.8" y="328" width="6" height="2.4" fill="#000" fill-opacity="0.415"/>
<rect x="147.8" y="330" width="6" height="2.4" fill="#000" fill-opacity="0.441"/>
<rect x="147.7" y="332" width="6" height="2.4" fill="#000" fill-opacity="0.465"/>
<rect x="147.7" y="334" width="6" height="2.4" fill="#000" fill-opacity="0.490"/>
<rect x="147.7" y="336" width="6" height="2.4" fill="#000" fill-opacity="0.513"/>
<rect x="147.7" y="338" width="6" height="2.4" fill="#000" fill-opacity="0.533"/>
<rect x="147.6" y="340" width="6" height="2.4" fill="#000" fill-opacity="0.543"/>
<rect x="147.6" y="342" width="6" height="2.4" fill="#000" fill-opacity="0.521"/>
<rect x="147.6" y="344" width="6" height="2.4" fill="#000" fill-opacity="0.500"/>
<rect x="147.6" y="346" width="6" height="2.4" fill="#000" fill-opacity="0.493"/>
<rect x="147.6" y="348" width="6" height="2.4" fill="#000" fill-opacity="0.490"/>
<rect x="147.6" y="350" width="6" height="2.4" fill="#000" fill-opacity="0.493"/>
<rect x="147.5" y="352" width="6" height="2.4" fill="#000" fill-opacity="0.513"/>
<rect x="147.5" y="354" width="6" height="2.4" fill="#000" fill-opacity="0.503"/>
<rect x="147.5" y="356" width="6" height="2.4" fill="#000" fill-opacity="0.404"/>
<rect x="147.5" y="358" width="6" height="2.4" fill="#000" fill-opacity="0.318"/>
<rect x="147.5" y="360" width="6" height="2.4" fill="#000" fill-opacity="0.272"/>
<rect x="147.5" y="362" width="6" height="2.4" fill="#000" fill-opacity="0.242"/>
<rect x="147.5" y="364" width="6" height="2.4" fill="#000" fill-opacity="0.260"/>
<rect x="147.5" y="366" width="6" height="2.4" fill="#000" fill-opacity="0.277"/>
<rect x="147.4" y="368" width="6" height="2.4" fill="#000" fill-opacity="0.219"/>
<rect x="147.4" y="370" width="6" height="2.4" fill="#000" fill-opacity="0.160"/>
<rect x="147.4" y="372" width="6" height="2.4" fill="#000" fill-opacity="0.120"/>
<rect x="147.4" y="374" width="6" height="2.4" fill="#000" fill-opacity="0.087"/>
<rect x="147.4" y="376" width="6" height="2.4" fill="#000" fill-opacity="0.054"/>
<rect x="147.4" y="378" width="6" height="2.4" fill="#000" fill-opacity="0.041"/>
<rect x="147.4" y="380" width="6" height="2.4" fill="#000" fill-opacity="0.033"/>
<rect x="147.4" y="382" width="6" height="2.4" fill="#000" fill-opacity="0.026"/>
<rect x="157.5" y="266" width="9.4" height="2.4" fill="#000" fill-opacity="0.021"/>
<rect x="157.5" y="268" width="9.4" height="2.4" fill="#000" fill-opacity="0.034"/>
<rect x="157.5" y="270" width="9.4" height="2.4" fill="#000" fill-opacity="0.048"/>
<rect x="157.5" y="272" width="9.4" height="2.4" fill="#000" fill-opacity="0.058"/>
<rect x="157.5" y="274" width="9.4" height="2.4" fill="#000" fill-opacity="0.064"/>
<rect x="157.5" y="276" width="9.4" height="2.4" fill="#000" fill-opacity="0.070"/>
<rect x="157.5" y="278" width="9.4" height="2.4" fill="#000" fill-opacity="0.076"/>
<rect x="157.5" y="280" width="9.4" height="2.4" fill="#000" fill-opacity="0.082"/>
<rect x="157.5" y="282" width="9.4" height="2.4" fill="#000" fill-opacity="0.088"/>
<rect x="157.5" y="284" width="9.4" height="2.4" fill="#000" fill-opacity="0.094"/>
<rect x="157.5" y="286" width="9.4" height="2.4" fill="#000" fill-opacity="0.096"/>
<rect x="157.5" y="288" width="9.4" height="2.4" fill="#000" fill-opacity="0.094"/>
<rect x="157.5" y="290" width="9.4" height="2.4" fill="#000" fill-opacity="0.092"/>
<rect x="157.5" y="292" width="9.4" height="2.4" fill="#000" fill-opacity="0.090"/>
<rect x="157.5" y="294" width="9.4" height="2.4" fill="#000" fill-opacity="0.095"/>
<rect x="157.5" y="296" width="9.4" height="2.4" fill="#000" fill-opacity="0.101"/>
<rect x="157.5" y="298" width="9.4" height="2.4" fill="#000" fill-opacity="0.106"/>
<rect x="157.5" y="300" width="9.4" height="2.4" fill="#000" fill-opacity="0.112"/>
<rect x="157.5" y="302" width="9.4" height="2.4" fill="#000" fill-opacity="0.117"/>
<rect x="157.5" y="304" width="9.4" height="2.4" fill="#000" fill-opacity="0.119"/>
<rect x="157.5" y="306" width="9.4" height="2.4" fill="#000" fill-opacity="0.121"/>
<rect x="157.5" y="308" width="9.4" height="2.4" fill="#000" fill-opacity="0.124"/>
<rect x="157.5" y="310" width="9.4" height="2.4" fill="#000" fill-opacity="0.126"/>
<rect x="157.5" y="312" width="9.4" height="2.4" fill="#000" fill-opacity="0.136"/>
<rect x="157.5" y="314" width="9.4" height="2.4" fill="#000" fill-opacity="0.147"/>
<rect x="157.5" y="316" width="9.4" height="2.4" fill="#000" fill-opacity="0.158"/>
<rect x="157.5" y="318" width="9.4" height="2.4" fill="#000" fill-opacity="0.170"/>
<rect x="157.5" y="320" width="9.4" height="2.4" fill="#000" fill-opacity="0.181"/>
<rect x="157.5" y="322" width="9.4" height="2.4" fill="#000" fill-opacity="0.193"/>
<rect x="157.5" y="324" width="9.4" height="2.4" fill="#000" fill-opacity="0.209"/>
<rect x="157.5" y="326" width="9.4" height="2.4" fill="#000" fill-opacity="0.225"/>
<rect x="157.5" y="328" width="9.4" height="2.4" fill="#000" fill-opacity="0.241"/>
<rect x="157.5" y="330" width="9.4" height="2.4" fill="#000" fill-opacity="0.258"/>
<rect x="157.5" y="332" width="9.4" height="2.4" fill="#000" fill-opacity="0.265"/>
<rect x="157.5" y="334" width="9.4" height="2.4" fill="#000" fill-opacity="0.272"/>
<rect x="157.5" y="336" width="9.4" height="2.4" fill="#000" fill-opacity="0.285"/>
<rect x="157.5" y="338" width="9.4" height="2.4" fill="#000" fill-opacity="0.302"/>
<rect x="157.5" y="340" width="9.4" height="2.4" fill="#000" fill-opacity="0.301"/>
<rect x="157.5" y="342" width="9.4" height="2.4" fill="#000" fill-opacity="0.283"/>
<rect x="157.5" y="344" width="9.4" height="2.4" fill="#000" fill-opacity="0.265"/>
<rect x="157.5" y="346" width="9.4" height="2.4" fill="#000" fill-opacity="0.280"/>
<rect x="157.5" y="348" width="9.4" height="2.4" fill="#000" fill-opacity="0.295"/>
<rect x="157.5" y="350" width="9.4" height="2.4" fill="#000" fill-opacity="0.310"/>
<rect x="157.5" y="352" width="9.4" height="2.4" fill="#000" fill-opacity="0.318"/>
<rect x="157.5" y="354" width="9.4" height="2.4" fill="#000" fill-opacity="0.291"/>
<rect x="157.5" y="356" width="9.4" height="2.4" fill="#000" fill-opacity="0.230"/>
<rect x="157.5" y="358" width="9.4" height="2.4" fill="#000" fill-opacity="0.190"/>
<rect x="157.5" y="360" width="9.4" height="2.4" fill="#000" fill-opacity="0.149"/>
<rect x="157.5" y="362" width="9.4" height="2.4" fill="#000" fill-opacity="0.168"/>
<rect x="157.5" y="364" width="9.4" height="2.4" fill="#000" fill-opacity="0.186"/>
<rect x="157.5" y="366" width="9.4" height="2.4" fill="#000" fill-opacity="0.173"/>
<rect x="157.5" y="368" width="9.4" height="2.4" fill="#000" fill-opacity="0.127"/>
<rect x="157.5" y="370" width="9.4" height="2.4" fill="#000" fill-opacity="0.081"/>
<rect x="157.5" y="372" width="9.4" height="2.4" fill="#000" fill-opacity="0.066"/>
<rect x="157.5" y="374" width="9.4" height="2.4" fill="#000" fill-opacity="0.052"/>
<rect x="157.5" y="376" width="9.4" height="2.4" fill="#000" fill-opacity="0.037"/>
<rect x="157.5" y="378" width="9.4" height="2.4" fill="#000" fill-opacity="0.023"/>
<rect x="157.5" y="380" width="9.4" height="2.4" fill="#000" fill-opacity="0.017"/>
<rect x="157.5" y="382" width="9.4" height="2.4" fill="#000" fill-opacity="0.011"/>
<rect x="169.1" y="266" width="8.8" height="2.4" fill="#000" fill-opacity="0.088"/>
<rect x="169.1" y="268" width="8.8" height="2.4" fill="#000" fill-opacity="0.151"/>
<rect x="169.1" y="270" width="8.8" height="2.4" fill="#000" fill-opacity="0.215"/>
<rect x="169.1" y="272" width="8.8" height="2.4" fill="#000" fill-opacity="0.260"/>
<rect x="169.1" y="274" width="8.8" height="2.4" fill="#000" fill-opacity="0.286"/>
<rect x="169.1" y="276" width="8.8" height="2.4" fill="#000" fill-opacity="0.312"/>
<rect x="169.1" y="278" width="8.8" height="2.4" fill="#000" fill-opacity="0.339"/>
<rect x="169.1" y="280" width="8.8" height="2.4" fill="#000" fill-opacity="0.387"/>
<rect x="169.1" y="282" width="8.8" height="2.4" fill="#000" fill-opacity="0.458"/>
<rect x="169.1" y="284" width="8.8" height="2.4" fill="#000" fill-opacity="0.528"/>
<rect x="169.1" y="286" width="8.8" height="2.4" fill="#000" fill-opacity="0.543"/>
<rect x="169.1" y="288" width="8.8" height="2.4" fill="#000" fill-opacity="0.502"/>
<rect x="169.1" y="290" width="8.8" height="2.4" fill="#000" fill-opacity="0.461"/>
<rect x="169.1" y="292" width="8.8" height="2.4" fill="#000" fill-opacity="0.444"/>
<rect x="169.1" y="294" width="8.8" height="2.4" fill="#000" fill-opacity="0.453"/>
<rect x="169.1" y="296" width="8.8" height="2.4" fill="#000" fill-opacity="0.462"/>
<rect x="169.1" y="298" width="8.8" height="2.4" fill="#000" fill-opacity="0.471"/>
<rect x="169.1" y="300" width="8.8" height="2.4" fill="#000" fill-opacity="0.481"/>
<rect x="169.1" y="302" width="8.8" height="2.4" fill="#000" fill-opacity="0.493"/>
<rect x="169.1" y="304" width="8.8" height="2.4" fill="#000" fill-opacity="0.505"/>
<rect x="169.1" y="306" width="8.8" height="2.4" fill="#000" fill-opacity="0.516"/>
<rect x="169.1" y="308" width="8.8" height="2.4" fill="#000" fill-opacity="0.528"/>
<rect x="169.1" y="310" width="8.8" height="2.4" fill="#000" fill-opacity="0.570"/>
<rect x="169.1" y="312" width="8.8" height="2.4" fill="#000" fill-opacity="0.612"/>
<rect x="169.1" y="314" width="8.8" height="2.4" fill="#000" fill-opacity="0.655"/>
<rect x="169.1" y="316" width="8.8" height="2.4" fill="#000" fill-opacity="0.697"/>
<rect x="169.1" y="318" width="8.8" height="2.4" fill="#000" fill-opacity="0.739"/>
<rect x="169.1" y="320" width="8.8" height="2.4" fill="#000" fill-opacity="0.773"/>
<rect x="169.1" y="322" width="8.8" height="2.4" fill="#000" fill-opacity="0.798"/>
<rect x="169.1" y="324" width="8.8" height="2.4" fill="#000" fill-opacity="0.815"/>
<rect x="169.1" y="326" width="8.8" height="2.4" fill="#000" fill-opacity="0.824"/>
<rect x="169.1" y="328" width="8.8" height="2.4" fill="#000" fill-opacity="0.825"/>
<rect x="169.1" y="330" width="8.8" height="2.4" fill="#000" fill-opacity="0.809"/>
<rect x="169.1" y="332" width="8.8" height="2.4" fill="#000" fill-opacity="0.786"/>
<rect x="169.1" y="334" width="8.8" height="2.4" fill="#000" fill-opacity="0.827"/>
<rect x="169.1" y="336" width="8.8" height="2.4" fill="#000" fill-opacity="0.864"/>
<rect x="169.1" y="338" width="8.8" height="2.4" fill="#000" fill-opacity="0.896"/>
<rect x="169.1" y="340" width="8.8" height="2.4" fill="#000" fill-opacity="0.895"/>
<rect x="169.1" y="342" width="8.8" height="2.4" fill="#000" fill-opacity="0.860"/>
<rect x="169.1" y="344" width="8.8" height="2.4" fill="#000" fill-opacity="0.825"/>
<rect x="169.1" y="346" width="8.8" height="2.4" fill="#000" fill-opacity="0.821"/>
<rect x="169.1" y="348" width="8.8" height="2.4" fill="#000" fill-opacity="0.816"/>
<rect x="169.1" y="350" width="8.8" height="2.4" fill="#000" fill-opacity="0.831"/>
<rect x="169.1" y="352" width="8.8" height="2.4" fill="#000" fill-opacity="0.864"/>
<rect x="169.1" y="354" width="8.8" height="2.4" fill="#000" fill-opacity="0.798"/>
<rect x="169.1" y="356" width="8.8" height="2.4" fill="#000" fill-opacity="0.632"/>
<rect x="169.1" y="358" width="8.8" height="2.4" fill="#000" fill-opacity="0.511"/>
<rect x="169.1" y="360" width="8.8" height="2.4" fill="#000" fill-opacity="0.435"/>
<rect x="169.1" y="362" width="8.8" height="2.4" fill="#000" fill-opacity="0.411"/>
<rect x="169.1" y="364" width="8.8" height="2.4" fill="#000" fill-opacity="0.440"/>
<rect x="169.1" y="366" width="8.8" height="2.4" fill="#000" fill-opacity="0.438"/>
<rect x="169.1" y="368" width="8.8" height="2.4" fill="#000" fill-opacity="0.340"/>
<rect x="169.1" y="370" width="8.8" height="2.4" fill="#000" fill-opacity="0.242"/>
<rect x="169.1" y="372" width="8.8" height="2.4" fill="#000" fill-opacity="0.187"/>
<rect x="169.1" y="374" width="8.8" height="2.4" fill="#000" fill-opacity="0.132"/>
<rect x="169.1" y="376" width="8.8" height="2.4" fill="#000" fill-opacity="0.077"/>
<rect x="169.1" y="378" width="8.8" height="2.4" fill="#000" fill-opacity="0.065"/>
<rect x="169.1" y="380" width="8.8" height="2.4" fill="#000" fill-opacity="0.053"/>
<rect x="169.1" y="382" width="8.8" height="2.4" fill="#000" fill-opacity="0.041"/>
<rect x="180.3" y="266" width="9.4" height="2.4" fill="#000" fill-opacity="0.021"/>
<rect x="180.3" y="268" width="9.4" height="2.4" fill="#000" fill-opacity="0.034"/>
<rect x="180.3" y="270" width="9.4" height="2.4" fill="#000" fill-opacity="0.048"/>
<rect x="180.3" y="272" width="9.4" height="2.4" fill="#000" fill-opacity="0.058"/>
<rect x="180.3" y="274" width="9.4" height="2.4" fill="#000" fill-opacity="0.064"/>
<rect x="180.3" y="276" width="9.4" height="2.4" fill="#000" fill-opacity="0.070"/>
<rect x="180.3" y="278" width="9.4" height="2.4" fill="#000" fill-opacity="0.076"/>
<rect x="180.3" y="280" width="9.4" height="2.4" fill="#000" fill-opacity="0.082"/>
<rect x="180.3" y="282" width="9.4" height="2.4" fill="#000" fill-opacity="0.088"/>
<rect x="180.3" y="284" width="9.4" height="2.4" fill="#000" fill-opacity="0.094"/>
<rect x="180.3" y="286" width="9.4" height="2.4" fill="#000" fill-opacity="0.096"/>
<rect x="180.3" y="288" width="9.4" height="2.4" fill="#000" fill-opacity="0.094"/>
<rect x="180.3" y="290" width="9.4" height="2.4" fill="#000" fill-opacity="0.092"/>
<rect x="180.3" y="292" width="9.4" height="2.4" fill="#000" fill-opacity="0.090"/>
<rect x="180.3" y="294" width="9.4" height="2.4" fill="#000" fill-opacity="0.095"/>
<rect x="180.3" y="296" width="9.4" height="2.4" fill="#000" fill-opacity="0.101"/>
<rect x="180.3" y="298" width="9.4" height="2.4" fill="#000" fill-opacity="0.106"/>
<rect x="180.3" y="300" width="9.4" height="2.4" fill="#000" fill-opacity="0.112"/>
<rect x="180.3" y="302" width="9.4" height="2.4" fill="#000" fill-opacity="0.117"/>
<rect x="180.3" y="304" width="9.4" height="2.4" fill="#000" fill-opacity="0.119"/>
<rect x="180.3" y="306" width="9.4" height="2.4" fill="#000" fill-opacity="0.121"/>
<rect x="180.3" y="308" width="9.4" height="2.4" fill="#000" fill-opacity="0.124"/>
<rect x="180.3" y="310" width="9.4" height="2.4" fill="#000" fill-opacity="0.126"/>
<rect x="180.3" y="312" width="9.4" height="2.4" fill="#000" fill-opacity="0.136"/>
<rect x="180.3" y="314" width="9.4" height="2.4" fill="#000" fill-opacity="0.147"/>
<rect x="180.3" y="316" width="9.4" height="2.4" fill="#000" fill-opacity="0.158"/>
<rect x="180.3" y="318" width="9.4" height="2.4" fill="#000" fill-opacity="0.170"/>
<rect x="180.3" y="320" width="9.4" height="2.4" fill="#000" fill-opacity="0.181"/>
<rect x="180.3" y="322" width="9.4" height="2.4" fill="#000" fill-opacity="0.193"/>
<rect x="180.3" y="324" width="9.4" height="2.4" fill="#000" fill-opacity="0.209"/>
<rect x="180.3" y="326" width="9.4" height="2.4" fill="#000" fill-opacity="0.225"/>
<rect x="180.3" y="328" width="9.4" height="2.4" fill="#000" fill-opacity="0.241"/>
<rect x="180.3" y="330" width="9.4" height="2.4" fill="#000" fill-opacity="0.258"/>
<rect x="180.3" y="332" width="9.4" height="2.4" fill="#000" fill-opacity="0.265"/>
<rect x="180.3" y="334" width="9.4" height="2.4" fill="#000" fill-opacity="0.272"/>
<rect x="180.3" y="336" width="9.4" height="2.4" fill="#000" fill-opacity="0.285"/>
<rect x="180.3" y="338" width="9.4" height="2.4" fill="#000" fill-opacity="0.302"/>
<rect x="180.3" y="340" width="9.4" height="2.4" fill="#000" fill-opacity="0.301"/>
<rect x="180.3" y="342" width="9.4" height="2.4" fill="#000" fill-opacity="0.283"/>
<rect x="180.3" y="344" width="9.4" height="2.4" fill="#000" fill-opacity="0.265"/>
<rect x="180.3" y="346" width="9.4" height="2.4" fill="#000" fill-opacity="0.280"/>
<rect x="180.3" y="348" width="9.4" height="2.4" fill="#000" fill-opacity="0.295"/>
<rect x="180.3" y="350" width="9.4" height="2.4" fill="#000" fill-opacity="0.310"/>
<rect x="180.3" y="352" width="9.4" height="2.4" fill="#000" fill-opacity="0.318"/>
<rect x="180.3" y="354" width="9.4" height="2.4" fill="#000" fill-opacity="0.291"/>
<rect x="180.3" y="356" width="9.4" height="2.4" fill="#000" fill-opacity="0.230"/>
<rect x="180.3" y="358" width="9.4" height="2.4" fill="#000" fill-opacity="0.190"/>
<rect x="180.3" y="360" width="9.4" height="2.4" fill="#000" fill-opacity="0.149"/>
<rect x="180.3" y="362" width="9.4" height="2.4" fill="#000" fill-opacity="0.168"/>
<rect x="180.3" y="364" width="9.4" height="2.4" fill="#000" fill-opacity="0.186"/>
<rect x="180.3" y="366" width="9.4" height="2.4" fill="#000" fill-opacity="0.173"/>
<rect x="180.3" y="368" width="9.4" height="2.4" fill="#000" fill-opacity="0.127"/>
<rect x="180.3" y="370" width="9.4" height="2.4" fill="#000" fill-opacity="0.081"/>
<rect x="180.3" y="372" width="9.4" height="2.4" fill="#000" fill-opacity="0.066"/>
<rect x="180.3" y="374" width="9.4" height="2.4" fill="#000" fill-opacity="0.052"/>
<rect x="180.3" y="376" width="9.4" height="2.4" fill="#000" fill-opacity="0.037"/>
<rect x="180.3" y="378" width="9.4" height="2.4" fill="#000" fill-opacity="0.023"/>
<rect x="180.3" y="380" width="9.4" height="2.4" fill="#000" fill-opacity="0.017"/>
<rect x="180.3" y="382" width="9.4" height="2.4" fill="#000" fill-opacity="0.011"/>
<rect x="191.9" y="266" width="9.2" height="2.4" fill="#000" fill-opacity="0.054"/>
<rect x="191.9" y="268" width="9.2" height="2.4" fill="#000" fill-opacity="0.093"/>
<rect x="191.9" y="270" width="9.2" height="2.4" fill="#000" fill-opacity="0.133"/>
<rect x="191.9" y="272" width="9.2" height="2.4" fill="#000" fill-opacity="0.160"/>
<rect x="191.9" y="274" width="9.2" height="2.4" fill="#000" fill-opacity="0.176"/>
<rect x="191.9" y="276" width="9.2" height="2.4" fill="#000" fill-opacity="0.193"/>
<rect x="191.9" y="278" width="9.2" height="2.4" fill="#000" fill-opacity="0.209"/>
<rect x="191.9" y="280" width="9.2" height="2.4" fill="#000" fill-opacity="0.241"/>
<rect x="191.9" y="282" width="9.2" height="2.4" fill="#000" fill-opacity="0.285"/>
<rect x="191.9" y="284" width="9.2" height="2.4" fill="#000" fill-opacity="0.329"/>
<rect x="191.9" y="286" width="9.2" height="2.4" fill="#000" fill-opacity="0.330"/>
<rect x="191.9" y="288" width="9.2" height="2.4" fill="#000" fill-opacity="0.304"/>
<rect x="191.9" y="290" width="9.2" height="2.4" fill="#000" fill-opacity="0.279"/>
<rect x="191.9" y="292" width="9.2" height="2.4" fill="#000" fill-opacity="0.274"/>
<rect x="191.9" y="294" width="9.2" height="2.4" fill="#000" fill-opacity="0.279"/>
<rect x="191.9" y="296" width="9.2" height="2.4" fill="#000" fill-opacity="0.285"/>
<rect x="191.9" y="298" width="9.2" height="2.4" fill="#000" fill-opacity="0.290"/>
<rect x="191.9" y="300" width="9.2" height="2.4" fill="#000" fill-opacity="0.297"/>
<rect x="191.9" y="302" width="9.2" height="2.4" fill="#000" fill-opacity="0.304"/>
<rect x="191.9" y="304" width="9.2" height="2.4" fill="#000" fill-opacity="0.311"/>
<rect x="191.9" y="306" width="9.2" height="2.4" fill="#000" fill-opacity="0.319"/>
<rect x="191.9" y="308" width="9.2" height="2.4" fill="#000" fill-opacity="0.330"/>
<rect x="191.9" y="310" width="9.2" height="2.4" fill="#000" fill-opacity="0.356"/>
<rect x="191.9" y="312" width="9.2" height="2.4" fill="#000" fill-opacity="0.382"/>
<rect x="191.9" y="314" width="9.2" height="2.4" fill="#000" fill-opacity="0.408"/>
<rect x="191.9" y="316" width="9.2" height="2.4" fill="#000" fill-opacity="0.434"/>
<rect x="191.9" y="318" width="9.2" height="2.4" fill="#000" fill-opacity="0.465"/>
<rect x="191.9" y="320" width="9.2" height="2.4" fill="#000" fill-opacity="0.508"/>
<rect x="191.9" y="322" width="9.2" height="2.4" fill="#000" fill-opacity="0.549"/>
<rect x="191.9" y="324" width="9.2" height="2.4" fill="#000" fill-opacity="0.589"/>
<rect x="191.9" y="326" width="9.2" height="2.4" fill="#000" fill-opacity="0.628"/>
<rect x="191.9" y="328" width="9.2" height="2.4" fill="#000" fill-opacity="0.664"/>
<rect x="191.9" y="330" width="9.2" height="2.4" fill="#000" fill-opacity="0.694"/>
<rect x="191.9" y="332" width="9.2" height="2.4" fill="#000" fill-opacity="0.724"/>
<rect x="191.9" y="334" width="9.2" height="2.4" fill="#000" fill-opacity="0.761"/>
<rect x="191.9" y="336" width="9.2" height="2.4" fill="#000" fill-opacity="0.792"/>
<rect x="191.9" y="338" width="9.2" height="2.4" fill="#000" fill-opacity="0.823"/>
<rect x="191.9" y="340" width="9.2" height="2.4" fill="#000" fill-opacity="0.806"/>
<rect x="191.9" y="342" width="9.2" height="2.4" fill="#000" fill-opacity="0.774"/>
<rect x="191.9" y="344" width="9.2" height="2.4" fill="#000" fill-opacity="0.749"/>
<rect x="191.9" y="346" width="9.2" height="2.4" fill="#000" fill-opacity="0.745"/>
<rect x="191.9" y="348" width="9.2" height="2.4" fill="#000" fill-opacity="0.741"/>
<rect x="191.9" y="350" width="9.2" height="2.4" fill="#000" fill-opacity="0.762"/>
<rect x="191.9" y="352" width="9.2" height="2.4" fill="#000" fill-opacity="0.792"/>
<rect x="191.9" y="354" width="9.2" height="2.4" fill="#000" fill-opacity="0.688"/>
<rect x="191.9" y="356" width="9.2" height="2.4" fill="#000" fill-opacity="0.537"/>
<rect x="191.9" y="358" width="9.2" height="2.4" fill="#000" fill-opacity="0.448"/>
<rect x="191.9" y="360" width="9.2" height="2.4" fill="#000" fill-opacity="0.378"/>
<rect x="191.9" y="362" width="9.2" height="2.4" fill="#000" fill-opacity="0.380"/>
<rect x="191.9" y="364" width="9.2" height="2.4" fill="#000" fill-opacity="0.407"/>
<rect x="191.9" y="366" width="9.2" height="2.4" fill="#000" fill-opacity="0.376"/>
<rect x="191.9" y="368" width="9.2" height="2.4" fill="#000" fill-opacity="0.287"/>
<rect x="191.9" y="370" width="9.2" height="2.4" fill="#000" fill-opacity="0.207"/>
<rect x="191.9" y="372" width="9.2" height="2.4" fill="#000" fill-opacity="0.158"/>
<rect x="191.9" y="374" width="9.2" height="2.4" fill="#000" fill-opacity="0.108"/>
<rect x="191.9" y="376" width="9.2" height="2.4" fill="#000" fill-opacity="0.067"/>
<rect x="191.9" y="378" width="9.2" height="2.4" fill="#000" fill-opacity="0.056"/>
<rect x="191.9" y="380" width="9.2" height="2.4" fill="#000" fill-opacity="0.045"/>
<rect x="191.9" y="382" width="9.2" height="2.4" fill="#000" fill-opacity="0.034"/>
<rect x="203.3" y="266" width="9.4" height="2.4" fill="#000" fill-opacity="0.021"/>
<rect x="203.3" y="268" width="9.4" height="2.4" fill="#000" fill-opacity="0.035"/>
<rect x="203.3" y="270" width="9.4" height="2.4" fill="#000" fill-opacity="0.049"/>
<rect x="203.3" y="272" width="9.4" height="2.4" fill="#000" fill-opacity="0.058"/>
<rect x="203.3" y="274" width="9.4" height="2.4" fill="#000" fill-opacity="0.064"/>
<rect x="203.3" y="276" width="9.4" height="2.4" fill="#000" fill-opacity="0.070"/>
<rect x="203.3" y="278" width="9.4" height="2.4" fill="#000" fill-opacity="0.076"/>
<rect x="203.3" y="280" width="9.4" height="2.4" fill="#000" fill-opacity="0.082"/>
<rect x="203.3" y="282" width="9.4" height="2.4" fill="#000" fill-opacity="0.088"/>
<rect x="203.3" y="284" width="9.4" height="2.4" fill="#000" fill-opacity="0.094"/>
<rect x="203.3" y="286" width="9.4" height="2.4" fill="#000" fill-opacity="0.095"/>
<rect x="203.3" y="288" width="9.4" height="2.4" fill="#000" fill-opacity="0.093"/>
<rect x="203.3" y="290" width="9.4" height="2.4" fill="#000" fill-opacity="0.091"/>
<rect x="203.3" y="292" width="9.4" height="2.4" fill="#000" fill-opacity="0.091"/>
<rect x="203.3" y="294" width="9.4" height="2.4" fill="#000" fill-opacity="0.096"/>
<rect x="203.3" y="296" width="9.4" height="2.4" fill="#000" fill-opacity="0.102"/>
<rect x="203.3" y="298" width="9.4" height="2.4" fill="#000" fill-opacity="0.107"/>
<rect x="203.3" y="300" width="9.4" height="2.4" fill="#000" fill-opacity="0.113"/>
<rect x="203.3" y="302" width="9.4" height="2.4" fill="#000" fill-opacity="0.118"/>
<rect x="203.3" y="304" width="9.4" height="2.4" fill="#000" fill-opacity="0.120"/>
<rect x="203.3" y="306" width="9.4" height="2.4" fill="#000" fill-opacity="0.122"/>
<rect x="203.3" y="308" width="9.4" height="2.4" fill="#000" fill-opacity="0.124"/>
<rect x="203.3" y="310" width="9.4" height="2.4" fill="#000" fill-opacity="0.126"/>
<rect x="203.3" y="312" width="9.4" height="2.4" fill="#000" fill-opacity="0.137"/>
<rect x="203.3" y="314" width="9.4" height="2.4" fill="#000" fill-opacity="0.148"/>
<rect x="203.3" y="316" width="9.4" height="2.4" fill="#000" fill-opacity="0.159"/>
<rect x="203.3" y="318" width="9.4" height="2.4" fill="#000" fill-opacity="0.170"/>
<rect x="203.3" y="320" width="9.4" height="2.4" fill="#000" fill-opacity="0.182"/>
<rect x="203.3" y="322" width="9.4" height="2.4" fill="#000" fill-opacity="0.195"/>
<rect x="203.3" y="324" width="9.4" height="2.4" fill="#000" fill-opacity="0.210"/>
<rect x="203.3" y="326" width="9.4" height="2.4" fill="#000" fill-opacity="0.226"/>
<rect x="203.3" y="328" width="9.4" height="2.4" fill="#000" fill-opacity="0.243"/>
<rect x="203.3" y="330" width="9.4" height="2.4" fill="#000" fill-opacity="0.260"/>
<rect x="203.3" y="332" width="9.4" height="2.4" fill="#000" fill-opacity="0.267"/>
<rect x="203.3" y="334" width="9.4" height="2.4" fill="#000" fill-opacity="0.274"/>
<rect x="203.3" y="336" width="9.4" height="2.4" fill="#000" fill-opacity="0.289"/>
<rect x="203.3" y="338" width="9.4" height="2.4" fill="#000" fill-opacity="0.306"/>
<rect x="203.3" y="340" width="9.4" height="2.4" fill="#000" fill-opacity="0.297"/>
<rect x="203.3" y="342" width="9.4" height="2.4" fill="#000" fill-opacity="0.278"/>
<rect x="203.3" y="344" width="9.4" height="2.4" fill="#000" fill-opacity="0.268"/>
<rect x="203.3" y="346" width="9.4" height="2.4" fill="#000" fill-opacity="0.284"/>
<rect x="203.3" y="348" width="9.4" height="2.4" fill="#000" fill-opacity="0.299"/>
<rect x="203.3" y="350" width="9.4" height="2.4" fill="#000" fill-opacity="0.312"/>
<rect x="203.3" y="352" width="9.4" height="2.4" fill="#000" fill-opacity="0.320"/>
<rect x="203.3" y="354" width="9.4" height="2.4" fill="#000" fill-opacity="0.276"/>
<rect x="203.3" y="356" width="9.4" height="2.4" fill="#000" fill-opacity="0.220"/>
<rect x="203.3" y="358" width="9.4" height="2.4" fill="#000" fill-opacity="0.180"/>
<rect x="203.3" y="360" width="9.4" height="2.4" fill="#000" fill-opacity="0.154"/>
<rect x="203.3" y="362" width="9.4" height="2.4" fill="#000" fill-opacity="0.173"/>
<rect x="203.3" y="364" width="9.4" height="2.4" fill="#000" fill-opacity="0.191"/>
<rect x="203.3" y="366" width="9.4" height="2.4" fill="#000" fill-opacity="0.161"/>
<rect x="203.3" y="368" width="9.4" height="2.4" fill="#000" fill-opacity="0.115"/>
<rect x="203.3" y="370" width="9.4" height="2.4" fill="#000" fill-opacity="0.077"/>
<rect x="203.3" y="372" width="9.4" height="2.4" fill="#000" fill-opacity="0.063"/>
<rect x="203.3" y="374" width="9.4" height="2.4" fill="#000" fill-opacity="0.048"/>
<rect x="203.3" y="376" width="9.4" height="2.4" fill="#000" fill-opacity="0.034"/>
<rect x="203.3" y="378" width="9.4" height="2.4" fill="#000" fill-opacity="0.022"/>
<rect x="203.3" y="380" width="9.4" height="2.4" fill="#000" fill-opacity="0.016"/>
<rect x="203.3" y="382" width="9.4" height="2.4" fill="#000" fill-opacity="0.010"/>
<rect x="215.1" y="266" width="5.4" height="2.4" fill="#000" fill-opacity="0.028"/>
<rect x="215.2" y="268" width="5.4" height="2.4" fill="#000" fill-opacity="0.047"/>
<rect x="215.2" y="270" width="5.4" height="2.4" fill="#000" fill-opacity="0.067"/>
<rect x="215.2" y="272" width="5.4" height="2.4" fill="#000" fill-opacity="0.081"/>
<rect x="215.3" y="274" width="5.4" height="2.4" fill="#000" fill-opacity="0.090"/>
<rect x="215.3" y="276" width="5.4" height="2.4" fill="#000" fill-opacity="0.098"/>
<rect x="215.3" y="278" width="5.4" height="2.4" fill="#000" fill-opacity="0.106"/>
<rect x="215.4" y="280" width="5.4" height="2.4" fill="#000" fill-opacity="0.122"/>
<rect x="215.4" y="282" width="5.4" height="2.4" fill="#000" fill-opacity="0.144"/>
<rect x="215.4" y="284" width="5.4" height="2.4" fill="#000" fill-opacity="0.166"/>
<rect x="215.4" y="286" width="5.4" height="2.4" fill="#000" fill-opacity="0.169"/>
<rect x="215.5" y="288" width="5.4" height="2.4" fill="#000" fill-opacity="0.156"/>
<rect x="215.5" y="290" width="5.4" height="2.4" fill="#000" fill-opacity="0.143"/>
<rect x="215.5" y="292" width="5.4" height="2.4" fill="#000" fill-opacity="0.139"/>
<rect x="215.6" y="294" width="5.4" height="2.4" fill="#000" fill-opacity="0.142"/>
<rect x="215.6" y="296" width="5.4" height="2.4" fill="#000" fill-opacity="0.145"/>
<rect x="215.6" y="298" width="5.4" height="2.4" fill="#000" fill-opacity="0.147"/>
<rect x="215.6" y="300" width="5.4" height="2.4" fill="#000" fill-opacity="0.151"/>
<rect x="215.7" y="302" width="5.4" height="2.4" fill="#000" fill-opacity="0.154"/>
<rect x="215.7" y="304" width="5.4" height="2.4" fill="#000" fill-opacity="0.158"/>
<rect x="215.7" y="306" width="5.4" height="2.4" fill="#000" fill-opacity="0.162"/>
<rect x="215.7" y="308" width="5.4" height="2.4" fill="#000" fill-opacity="0.167"/>
<rect x="215.8" y="310" width="5.4" height="2.4" fill="#000" fill-opacity="0.180"/>
<rect x="215.8" y="312" width="5.4" height="2.4" fill="#000" fill-opacity="0.193"/>
<rect x="215.8" y="314" width="5.4" height="2.4" fill="#000" fill-opacity="0.207"/>
<rect x="215.8" y="316" width="5.4" height="2.4" fill="#000" fill-opacity="0.220"/>
<rect x="215.8" y="318" width="5.4" height="2.4" fill="#000" fill-opacity="0.235"/>
<rect x="215.9" y="320" width="5.4" height="2.4" fill="#000" fill-opacity="0.259"/>
<rect x="215.9" y="322" width="5.4" height="2.4" fill="#000" fill-opacity="0.283"/>
<rect x="215.9" y="324" width="5.4" height="2.4" fill="#000" fill-opacity="0.307"/>
<rect x="215.9" y="326" width="5.4" height="2.4" fill="#000" fill-opacity="0.331"/>
<rect x="215.9" y="328" width="5.4" height="2.4" fill="#000" fill-opacity="0.355"/>
<rect x="215.9" y="330" width="5.4" height="2.4" fill="#000" fill-opacity="0.375"/>
<rect x="216.0" y="332" width="5.4" height="2.4" fill="#000" fill-opacity="0.396"/>
<rect x="216.0" y="334" width="5.4" height="2.4" fill="#000" fill-opacity="0.416"/>
<rect x="216.0" y="336" width="5.4" height="2.4" fill="#000" fill-opacity="0.434"/>
<rect x="216.0" y="338" width="5.4" height="2.4" fill="#000" fill-opacity="0.451"/>
<rect x="216.0" y="340" width="5.4" height="2.4" fill="#000" fill-opacity="0.445"/>
<rect x="216.0" y="342" width="5.4" height="2.4" fill="#000" fill-opacity="0.427"/>
<rect x="216.1" y="344" width="5.4" height="2.4" fill="#000" fill-opacity="0.412"/>
<rect x="216.1" y="346" width="5.4" height="2.4" fill="#000" fill-opacity="0.410"/>
<rect x="216.1" y="348" width="5.4" height="2.4" fill="#000" fill-opacity="0.408"/>
<rect x="216.1" y="350" width="5.4" height="2.4" fill="#000" fill-opacity="0.418"/>
<rect x="216.1" y="352" width="5.4" height="2.4" fill="#000" fill-opacity="0.434"/>
<rect x="216.1" y="354" width="5.4" height="2.4" fill="#000" fill-opacity="0.386"/>
<rect x="216.1" y="356" width="5.4" height="2.4" fill="#000" fill-opacity="0.304"/>
<rect x="216.1" y="358" width="5.4" height="2.4" fill="#000" fill-opacity="0.250"/>
<rect x="216.1" y="360" width="5.4" height="2.4" fill="#000" fill-opacity="0.211"/>
<rect x="216.1" y="362" width="5.4" height="2.4" fill="#000" fill-opacity="0.208"/>
<rect x="216.2" y="364" width="5.4" height="2.4" fill="#000" fill-opacity="0.222"/>
<rect x="216.2" y="366" width="5.4" height="2.4" fill="#000" fill-opacity="0.211"/>
<rect x="216.2" y="368" width="5.4" height="2.4" fill="#000" fill-opacity="0.163"/>
<rect x="216.2" y="370" width="5.4" height="2.4" fill="#000" fill-opacity="0.117"/>
<rect x="216.2" y="372" width="5.4" height="2.4" fill="#000" fill-opacity="0.089"/>
<rect x="216.2" y="374" width="5.4" height="2.4" fill="#000" fill-opacity="0.062"/>
<rect x="216.2" y="376" width="5.4" height="2.4" fill="#000" fill-opacity="0.038"/>
<rect x="216.2" y="378" width="5.4" height="2.4" fill="#000" fill-opacity="0.032"/>
<rect x="216.2" y="380" width="5.4" height="2.4" fill="#000" fill-opacity="0.025"/>
<rect x="216.2" y="382" width="5.4" height="2.4" fill="#000" fill-opacity="0.019"/>
<rect x="223.0" y="266" width="9.4" height="2.4" fill="#000" fill-opacity="0.021"/>
<rect x="223.1" y="268" width="9.4" height="2.4" fill="#000" fill-opacity="0.035"/>
<rect x="223.2" y="270" width="9.4" height="2.4" fill="#000" fill-opacity="0.049"/>
<rect x="223.3" y="272" width="9.4" height="2.4" fill="#000" fill-opacity="0.059"/>
<rect x="223.3" y="274" width="9.4" height="2.4" fill="#000" fill-opacity="0.065"/>
<rect x="223.4" y="276" width="9.4" height="2.4" fill="#000" fill-opacity="0.071"/>
<rect x="223.4" y="278" width="9.4" height="2.4" fill="#000" fill-opacity="0.077"/>
<rect x="223.5" y="280" width="9.4" height="2.4" fill="#000" fill-opacity="0.083"/>
<rect x="223.6" y="282" width="9.4" height="2.4" fill="#000" fill-opacity="0.089"/>
<rect x="223.6" y="284" width="9.4" height="2.4" fill="#000" fill-opacity="0.095"/>
<rect x="223.7" y="286" width="9.4" height="2.4" fill="#000" fill-opacity="0.095"/>
<rect x="223.7" y="288" width="9.4" height="2.4" fill="#000" fill-opacity="0.093"/>
<rect x="223.8" y="290" width="9.4" height="2.4" fill="#000" fill-opacity="0.091"/>
<rect x="223.9" y="292" width="9.4" height="2.4" fill="#000" fill-opacity="0.092"/>
<rect x="223.9" y="294" width="9.4" height="2.4" fill="#000" fill-opacity="0.098"/>
<rect x="224.0" y="296" width="9.4" height="2.4" fill="#000" fill-opacity="0.103"/>
<rect x="224.0" y="298" width="9.4" height="2.4" fill="#000" fill-opacity="0.109"/>
<rect x="224.1" y="300" width="9.4" height="2.4" fill="#000" fill-opacity="0.115"/>
<rect x="224.1" y="302" width="9.4" height="2.4" fill="#000" fill-opacity="0.119"/>
<rect x="224.2" y="304" width="9.4" height="2.4" fill="#000" fill-opacity="0.121"/>
<rect x="224.2" y="306" width="9.4" height="2.4" fill="#000" fill-opacity="0.123"/>
<rect x="224.3" y="308" width="9.4" height="2.4" fill="#000" fill-opacity="0.125"/>
<rect x="224.3" y="310" width="9.4" height="2.4" fill="#000" fill-opacity="0.127"/>
<rect x="224.3" y="312" width="9.4" height="2.4" fill="#000" fill-opacity="0.138"/>
<rect x="224.4" y="314" width="9.4" height="2.4" fill="#000" fill-opacity="0.149"/>
<rect x="224.4" y="316" width="9.4" height="2.4" fill="#000" fill-opacity="0.160"/>
<rect x="224.5" y="318" width="9.4" height="2.4" fill="#000" fill-opacity="0.171"/>
<rect x="224.5" y="320" width="9.4" height="2.4" fill="#000" fill-opacity="0.183"/>
<rect x="224.6" y="322" width="9.4" height="2.4" fill="#000" fill-opacity="0.197"/>
<rect x="224.6" y="324" width="9.4" height="2.4" fill="#000" fill-opacity="0.213"/>
<rect x="224.6" y="326" width="9.4" height="2.4" fill="#000" fill-opacity="0.229"/>
<rect x="224.7" y="328" width="9.4" height="2.4" fill="#000" fill-opacity="0.246"/>
<rect x="224.7" y="330" width="9.4" height="2.4" fill="#000" fill-opacity="0.263"/>
<rect x="224.7" y="332" width="9.4" height="2.4" fill="#000" fill-opacity="0.270"/>
<rect x="224.8" y="334" width="9.4" height="2.4" fill="#000" fill-opacity="0.279"/>
<rect x="224.8" y="336" width="9.4" height="2.4" fill="#000" fill-opacity="0.296"/>
<rect x="224.8" y="338" width="9.4" height="2.4" fill="#000" fill-opacity="0.308"/>
<rect x="224.9" y="340" width="9.4" height="2.4" fill="#000" fill-opacity="0.289"/>
<rect x="224.9" y="342" width="9.4" height="2.4" fill="#000" fill-opacity="0.271"/>
<rect x="224.9" y="344" width="9.4" height="2.4" fill="#000" fill-opacity="0.274"/>
<rect x="224.9" y="346" width="9.4" height="2.4" fill="#000" fill-opacity="0.290"/>
<rect x="225.0" y="348" width="9.4" height="2.4" fill="#000" fill-opacity="0.305"/>
<rect x="225.0" y="350" width="9.4" height="2.4" fill="#000" fill-opacity="0.315"/>
<rect x="225.0" y="352" width="9.4" height="2.4" fill="#000" fill-opacity="0.313"/>
<rect x="225.0" y="354" width="9.4" height="2.4" fill="#000" fill-opacity="0.251"/>
<rect x="225.0" y="356" width="9.4" height="2.4" fill="#000" fill-opacity="0.204"/>
<rect x="225.1" y="358" width="9.4" height="2.4" fill="#000" fill-opacity="0.164"/>
<rect x="225.1" y="360" width="9.4" height="2.4" fill="#000" fill-opacity="0.161"/>
<rect x="225.1" y="362" width="9.4" height="2.4" fill="#000" fill-opacity="0.180"/>
<rect x="225.1" y="364" width="9.4" height="2.4" fill="#000" fill-opacity="0.189"/>
<rect x="225.1" y="366" width="9.4" height="2.4" fill="#000" fill-opacity="0.143"/>
<rect x="225.1" y="368" width="9.4" height="2.4" fill="#000" fill-opacity="0.097"/>
<rect x="225.1" y="370" width="9.4" height="2.4" fill="#000" fill-opacity="0.071"/>
<rect x="225.2" y="372" width="9.4" height="2.4" fill="#000" fill-opacity="0.057"/>
<rect x="225.2" y="374" width="9.4" height="2.4" fill="#000" fill-opacity="0.042"/>
<rect x="225.2" y="376" width="9.4" height="2.4" fill="#000" fill-opacity="0.028"/>
<rect x="225.2" y="378" width="9.4" height="2.4" fill="#000" fill-opacity="0.019"/>
<rect x="225.2" y="380" width="9.4" height="2.4" fill="#000" fill-opacity="0.014"/>
<rect x="225.2" y="382" width="9.4" height="2.4" fill="#000" fill-opacity="0.008"/>
<rect x="234.7" y="266" width="9.2" height="2.4" fill="#000" fill-opacity="0.055"/>
<rect x="234.8" y="268" width="9.2" height="2.4" fill="#000" fill-opacity="0.098"/>
<rect x="234.9" y="270" width="9.2" height="2.4" fill="#000" fill-opacity="0.141"/>
<rect x="235.0" y="272" width="9.2" height="2.4" fill="#000" fill-opacity="0.166"/>
<rect x="235.1" y="274" width="9.2" height="2.4" fill="#000" fill-opacity="0.184"/>
<rect x="235.2" y="276" width="9.2" height="2.4" fill="#000" fill-opacity="0.202"/>
<rect x="235.3" y="278" width="9.2" height="2.4" fill="#000" fill-opacity="0.220"/>
<rect x="235.4" y="280" width="9.2" height="2.4" fill="#000" fill-opacity="0.268"/>
<rect x="235.5" y="282" width="9.2" height="2.4" fill="#000" fill-opacity="0.316"/>
<rect x="235.5" y="284" width="9.2" height="2.4" fill="#000" fill-opacity="0.345"/>
<rect x="235.6" y="286" width="9.2" height="2.4" fill="#000" fill-opacity="0.317"/>
<rect x="235.7" y="288" width="9.2" height="2.4" fill="#000" fill-opacity="0.290"/>
<rect x="235.8" y="290" width="9.2" height="2.4" fill="#000" fill-opacity="0.278"/>
<rect x="235.9" y="292" width="9.2" height="2.4" fill="#000" fill-opacity="0.284"/>
<rect x="236.0" y="294" width="9.2" height="2.4" fill="#000" fill-opacity="0.290"/>
<rect x="236.0" y="296" width="9.2" height="2.4" fill="#000" fill-opacity="0.296"/>
<rect x="236.1" y="298" width="9.2" height="2.4" fill="#000" fill-opacity="0.303"/>
<rect x="236.2" y="300" width="9.2" height="2.4" fill="#000" fill-opacity="0.311"/>
<rect x="236.3" y="302" width="9.2" height="2.4" fill="#000" fill-opacity="0.319"/>
<rect x="236.3" y="304" width="9.2" height="2.4" fill="#000" fill-opacity="0.327"/>
<rect x="236.4" y="306" width="9.2" height="2.4" fill="#000" fill-opacity="0.348"/>
<rect x="236.5" y="308" width="9.2" height="2.4" fill="#000" fill-opacity="0.375"/>
<rect x="236.6" y="310" width="9.2" height="2.4" fill="#000" fill-opacity="0.401"/>
<rect x="236.6" y="312" width="9.2" height="2.4" fill="#000" fill-opacity="0.428"/>
<rect x="236.7" y="314" width="9.2" height="2.4" fill="#000" fill-opacity="0.454"/>
<rect x="236.8" y="316" width="9.2" height="2.4" fill="#000" fill-opacity="0.496"/>
<rect x="236.8" y="318" width="9.2" height="2.4" fill="#000" fill-opacity="0.544"/>
<rect x="236.9" y="320" width="9.2" height="2.4" fill="#000" fill-opacity="0.585"/>
<rect x="236.9" y="322" width="9.2" height="2.4" fill="#000" fill-opacity="0.624"/>
<rect x="237.0" y="324" width="9.2" height="2.4" fill="#000" fill-opacity="0.663"/>
<rect x="237.0" y="326" width="9.2" height="2.4" fill="#000" fill-opacity="0.695"/>
<rect x="237.1" y="328" width="9.2" height="2.4" fill="#000" fill-opacity="0.723"/>
<rect x="237.1" y="330" width="9.2" height="2.4" fill="#000" fill-opacity="0.751"/>
<rect x="237.2" y="332" width="9.2" height="2.4" fill="#000" fill-opacity="0.776"/>
<rect x="237.2" y="334" width="9.2" height="2.4" fill="#000" fill-opacity="0.806"/>
<rect x="237.3" y="336" width="9.2" height="2.4" fill="#000" fill-opacity="0.824"/>
<rect x="237.3" y="338" width="9.2" height="2.4" fill="#000" fill-opacity="0.792"/>
<rect x="237.4" y="340" width="9.2" height="2.4" fill="#000" fill-opacity="0.760"/>
<rect x="237.4" y="342" width="9.2" height="2.4" fill="#000" fill-opacity="0.747"/>
<rect x="237.5" y="344" width="9.2" height="2.4" fill="#000" fill-opacity="0.743"/>
<rect x="237.5" y="346" width="9.2" height="2.4" fill="#000" fill-opacity="0.746"/>
<rect x="237.5" y="348" width="9.2" height="2.4" fill="#000" fill-opacity="0.776"/>
<rect x="237.6" y="350" width="9.2" height="2.4" fill="#000" fill-opacity="0.770"/>
<rect x="237.6" y="352" width="9.2" height="2.4" fill="#000" fill-opacity="0.620"/>
<rect x="237.6" y="354" width="9.2" height="2.4" fill="#000" fill-opacity="0.486"/>
<rect x="237.7" y="356" width="9.2" height="2.4" fill="#000" fill-opacity="0.416"/>
<rect x="237.7" y="358" width="9.2" height="2.4" fill="#000" fill-opacity="0.365"/>
<rect x="237.7" y="360" width="9.2" height="2.4" fill="#000" fill-opacity="0.392"/>
<rect x="237.7" y="362" width="9.2" height="2.4" fill="#000" fill-opacity="0.419"/>
<rect x="237.8" y="364" width="9.2" height="2.4" fill="#000" fill-opacity="0.336"/>
<rect x="237.8" y="366" width="9.2" height="2.4" fill="#000" fill-opacity="0.247"/>
<rect x="237.8" y="368" width="9.2" height="2.4" fill="#000" fill-opacity="0.185"/>
<rect x="237.8" y="370" width="9.2" height="2.4" fill="#000" fill-opacity="0.135"/>
<rect x="237.8" y="372" width="9.2" height="2.4" fill="#000" fill-opacity="0.085"/>
<rect x="237.8" y="374" width="9.2" height="2.4" fill="#000" fill-opacity="0.062"/>
<rect x="237.9" y="376" width="9.2" height="2.4" fill="#000" fill-opacity="0.051"/>
<rect x="237.9" y="378" width="9.2" height="2.4" fill="#000" fill-opacity="0.040"/>
<rect x="237.9" y="380" width="9.2" height="2.4" fill="#000" fill-opacity="0.029"/>
<rect x="237.9" y="382" width="9.2" height="2.4" fill="#000" fill-opacity="0.018"/>
</g>
<g filter="url(#b3)">
<rect x="65.3" y="333.1" width="13.5" height="2.4" rx="1" fill="#000" fill-opacity="0.080"/>
<rect x="64.2" y="347.2" width="13.5" height="2.2" rx="1" fill="#000" fill-opacity="0.300"/>
<rect x="63.5" y="358.8" width="13.5" height="3.0" rx="1" fill="#000" fill-opacity="0.100"/>
<rect x="79.4" y="334.3" width="8.3" height="3.0" rx="1" fill="#000" fill-opacity="0.270"/>
<rect x="78.5" y="348.5" width="8.3" height="2.6" rx="1" fill="#000" fill-opacity="0.306"/>
<rect x="77.9" y="360.8" width="8.3" height="3.0" rx="1" fill="#000" fill-opacity="0.198"/>
<rect x="90.1" y="336.5" width="9" height="2.4" rx="1" fill="#000" fill-opacity="0.080"/>
<rect x="89.4" y="350.6" width="9" height="2.2" rx="1" fill="#000" fill-opacity="0.300"/>
<rect x="88.9" y="362.2" width="9" height="3.0" rx="1" fill="#000" fill-opacity="0.100"/>
<rect x="102.9" y="337.0" width="6" height="3.0" rx="1" fill="#000" fill-opacity="0.186"/>
<rect x="102.3" y="351.2" width="6" height="2.6" rx="1" fill="#000" fill-opacity="0.211"/>
<rect x="101.9" y="363.5" width="6" height="3.0" rx="1" fill="#000" fill-opacity="0.136"/>
<rect x="112.8" y="337.8" width="9" height="2.4" rx="1" fill="#000" fill-opacity="0.080"/>
<rect x="112.3" y="351.9" width="9" height="2.2" rx="1" fill="#000" fill-opacity="0.300"/>
<rect x="112.0" y="363.5" width="9" height="3.0" rx="1" fill="#000" fill-opacity="0.100"/>
<rect x="125.3" y="337.5" width="6" height="3.0" rx="1" fill="#000" fill-opacity="0.186"/>
<rect x="124.9" y="351.7" width="6" height="2.6" rx="1" fill="#000" fill-opacity="0.211"/>
<rect x="124.7" y="364.0" width="6" height="3.0" rx="1" fill="#000" fill-opacity="0.136"/>
<rect x="134.8" y="337.8" width="9" height="2.4" rx="1" fill="#000" fill-opacity="0.080"/>
<rect x="134.6" y="351.9" width="9" height="2.2" rx="1" fill="#000" fill-opacity="0.300"/>
<rect x="134.4" y="363.5" width="9" height="3.0" rx="1" fill="#000" fill-opacity="0.100"/>
<rect x="147.6" y="338.0" width="6" height="3.0" rx="1" fill="#000" fill-opacity="0.198"/>
<rect x="147.5" y="352.2" width="6" height="2.6" rx="1" fill="#000" fill-opacity="0.224"/>
<rect x="147.5" y="364.5" width="6" height="3.0" rx="1" fill="#000" fill-opacity="0.145"/>
<rect x="157.5" y="337.8" width="9.4" height="2.4" rx="1" fill="#000" fill-opacity="0.080"/>
<rect x="157.5" y="351.9" width="9.4" height="2.2" rx="1" fill="#000" fill-opacity="0.300"/>
<rect x="157.5" y="363.5" width="9.4" height="3.0" rx="1" fill="#000" fill-opacity="0.100"/>
<rect x="169.1" y="337.5" width="8.8" height="3.0" rx="1" fill="#000" fill-opacity="0.330"/>
<rect x="169.1" y="351.7" width="8.8" height="2.6" rx="1" fill="#000" fill-opacity="0.374"/>
<rect x="169.1" y="364.0" width="8.8" height="3.0" rx="1" fill="#000" fill-opacity="0.242"/>
<rect x="180.3" y="337.8" width="9.4" height="2.4" rx="1" fill="#000" fill-opacity="0.080"/>
<rect x="180.3" y="351.9" width="9.4" height="2.2" rx="1" fill="#000" fill-opacity="0.300"/>
<rect x="180.3" y="363.5" width="9.4" height="3.0" rx="1" fill="#000" fill-opacity="0.100"/>
<rect x="191.9" y="337.0" width="9.2" height="3.0" rx="1" fill="#000" fill-opacity="0.300"/>
<rect x="191.9" y="351.2" width="9.2" height="2.6" rx="1" fill="#000" fill-opacity="0.340"/>
<rect x="191.9" y="363.5" width="9.2" height="3.0" rx="1" fill="#000" fill-opacity="0.220"/>
<rect x="203.3" y="337.3" width="9.4" height="2.4" rx="1" fill="#000" fill-opacity="0.080"/>
<rect x="203.3" y="351.4" width="9.4" height="2.2" rx="1" fill="#000" fill-opacity="0.300"/>
<rect x="203.3" y="363.0" width="9.4" height="3.0" rx="1" fill="#000" fill-opacity="0.100"/>
<rect x="216.0" y="337.2" width="5.4" height="3.0" rx="1" fill="#000" fill-opacity="0.165"/>
<rect x="216.1" y="351.4" width="5.4" height="2.6" rx="1" fill="#000" fill-opacity="0.187"/>
<rect x="216.2" y="363.7" width="5.4" height="3.0" rx="1" fill="#000" fill-opacity="0.121"/>
<rect x="224.8" y="336.5" width="9.4" height="2.4" rx="1" fill="#000" fill-opacity="0.080"/>
<rect x="225.0" y="350.6" width="9.4" height="2.2" rx="1" fill="#000" fill-opacity="0.300"/>
<rect x="225.1" y="362.2" width="9.4" height="3.0" rx="1" fill="#000" fill-opacity="0.100"/>
<rect x="237.3" y="334.1" width="9.2" height="3.0" rx="1" fill="#000" fill-opacity="0.300"/>
<rect x="237.6" y="348.3" width="9.2" height="2.6" rx="1" fill="#000" fill-opacity="0.340"/>
<rect x="237.7" y="360.6" width="9.2" height="3.0" rx="1" fill="#000" fill-opacity="0.220"/>
</g>
<g filter="url(#b1)">
<ellipse cx="69.6" cy="387.3" rx="6.5" ry="3.6" fill="#000" fill-opacity="0.3"/>
<ellipse cx="81.5" cy="388.8" rx="6.5" ry="3.6" fill="#000" fill-opacity="0.3"/>
<ellipse cx="93" cy="390.7" rx="6.5" ry="3.6" fill="#000" fill-opacity="0.3"/>
<ellipse cx="104.6" cy="391.5" rx="6.5" ry="3.6" fill="#000" fill-opacity="0.3"/>
<ellipse cx="116.3" cy="392" rx="6.5" ry="3.6" fill="#000" fill-opacity="0.3"/>
<ellipse cx="127.5" cy="392" rx="6.5" ry="3.6" fill="#000" fill-opacity="0.3"/>
<ellipse cx="138.8" cy="392" rx="6.5" ry="3.6" fill="#000" fill-opacity="0.3"/>
<ellipse cx="150.4" cy="392.5" rx="6.5" ry="3.6" fill="#000" fill-opacity="0.3"/>
<ellipse cx="162.2" cy="392" rx="6.5" ry="3.6" fill="#000" fill-opacity="0.3"/>
<ellipse cx="173.5" cy="392" rx="6.5" ry="3.6" fill="#000" fill-opacity="0.3"/>
<ellipse cx="185" cy="392" rx="6.5" ry="3.6" fill="#000" fill-opacity="0.3"/>
<ellipse cx="196.5" cy="391.5" rx="6.5" ry="3.6" fill="#000" fill-opacity="0.3"/>
<ellipse cx="208" cy="391.5" rx="6.5" ry="3.6" fill="#000" fill-opacity="0.3"/>
<ellipse cx="218.9" cy="391.7" rx="6.5" ry="3.6" fill="#000" fill-opacity="0.3"/>
<ellipse cx="229.9" cy="390.7" rx="6.5" ry="3.6" fill="#000" fill-opacity="0.3"/>
<ellipse cx="242.5" cy="388.6" rx="6.5" ry="3.6" fill="#000" fill-opacity="0.3"/>
</g>
<g filter="url(#b2)">
<ellipse cx="69.6" cy="387.3" rx="6.0" ry="2.15" fill="#000" transform="rotate(4 69.6 387.3)"/>
<ellipse cx="81.5" cy="388.8" rx="5.2" ry="2.15" fill="#000" transform="rotate(4 81.5 388.8)"/>
<ellipse cx="93" cy="390.7" rx="6.0" ry="2.15" fill="#000" transform="rotate(4 93 390.7)"/>
<ellipse cx="104.6" cy="391.5" rx="4.5" ry="2.15" fill="#000" transform="rotate(4 104.6 391.5)"/>
<ellipse cx="116.3" cy="392" rx="6.0" ry="2.15" fill="#000" transform="rotate(0 116.3 392)"/>
<ellipse cx="127.5" cy="392" rx="4.5" ry="2.15" fill="#000" transform="rotate(0 127.5 392)"/>
<ellipse cx="138.8" cy="392" rx="6.0" ry="2.15" fill="#000" transform="rotate(0 138.8 392)"/>
<ellipse cx="150.4" cy="392.5" rx="4.5" ry="2.15" fill="#000" transform="rotate(0 150.4 392.5)"/>
<ellipse cx="162.2" cy="392" rx="5.5" ry="2.15" fill="#000" transform="rotate(0 162.2 392)"/>
<ellipse cx="173.5" cy="392" rx="5.5" ry="2.15" fill="#000" transform="rotate(0 173.5 392)"/>
<ellipse cx="185" cy="392" rx="6.0" ry="2.15" fill="#000" transform="rotate(0 185 392)"/>
<ellipse cx="196.5" cy="391.5" rx="6.0" ry="2.15" fill="#000" transform="rotate(0 196.5 391.5)"/>
<ellipse cx="208" cy="391.5" rx="5.5" ry="2.15" fill="#000" transform="rotate(0 208 391.5)"/>
<ellipse cx="218.9" cy="391.7" rx="4.5" ry="2.15" fill="#000" transform="rotate(0 218.9 391.7)"/>
<ellipse cx="229.9" cy="390.7" rx="5.5" ry="2.15" fill="#000" transform="rotate(-5 229.9 390.7)"/>
<ellipse cx="242.5" cy="388.6" rx="6.2" ry="2.15" fill="#000" transform="rotate(-5 242.5 388.6)"/>
</g>
</g>
<rect x="60.4" y="266" width="190.3" height="135.6" fill="none" stroke="#222" stroke-width="1.3"/>
<rect x="60.4" y="403.6" width="190.3" height="16.8" fill="#f8f8f8"/>
<g clip-path="url(#cct)" filter="url(#b2)">
<rect x="65.0" y="414.5" width="8.4" height="1.7" rx="0.85" fill="#000" fill-opacity="0.8" transform="rotate(-2.0 69.6 415.4)"/>
<rect x="76.9" y="414.5" width="8.4" height="1.7" rx="0.85" fill="#000" fill-opacity="0.55" transform="rotate(-2.0 81.5 415.4)"/>
<rect x="88.4" y="414.4" width="8.4" height="1.7" rx="0.85" fill="#000" fill-opacity="0.8" transform="rotate(-2.1 93 415.3)"/>
<rect x="100.0" y="414.2" width="8.4" height="1.7" rx="0.85" fill="#000" fill-opacity="0.55" transform="rotate(-2.3 104.6 415.1)"/>
<rect x="111.7" y="414.0" width="8.4" height="1.7" rx="0.85" fill="#000" fill-opacity="0.8" transform="rotate(-2.6 116.3 414.9)"/>
<rect x="122.9" y="413.7" width="8.4" height="1.7" rx="0.85" fill="#000" fill-opacity="0.55" transform="rotate(-2.9 127.5 414.5)"/>
<rect x="134.2" y="413.3" width="8.4" height="1.7" rx="0.85" fill="#000" fill-opacity="0.8" transform="rotate(-3.3 138.8 414.2)"/>
<rect x="145.8" y="412.9" width="8.4" height="1.7" rx="0.85" fill="#000" fill-opacity="0.55" transform="rotate(-3.7 150.4 413.7)"/>
<rect x="157.6" y="412.4" width="8.4" height="1.7" rx="0.85" fill="#000" fill-opacity="0.8" transform="rotate(-4.3 162.2 413.2)"/>
<rect x="168.9" y="411.8" width="8.4" height="1.7" rx="0.85" fill="#000" fill-opacity="0.55" transform="rotate(-4.9 173.5 412.6)"/>
<rect x="180.4" y="411.1" width="8.4" height="1.7" rx="0.85" fill="#000" fill-opacity="0.8" transform="rotate(-5.6 185 412.0)"/>
<rect x="191.9" y="410.4" width="8.4" height="1.7" rx="0.85" fill="#000" fill-opacity="0.55" transform="rotate(-6.3 196.5 411.3)"/>
<rect x="203.4" y="409.6" width="8.4" height="1.7" rx="0.85" fill="#000" fill-opacity="0.8" transform="rotate(-7.1 208 410.5)"/>
<rect x="214.3" y="408.8" width="8.4" height="1.7" rx="0.85" fill="#000" fill-opacity="0.55" transform="rotate(-8.0 218.9 409.6)"/>
<rect x="225.3" y="407.8" width="8.4" height="1.7" rx="0.85" fill="#000" fill-opacity="0.8" transform="rotate(-9.0 229.9 408.7)"/>
<rect x="237.9" y="406.8" width="8.4" height="1.7" rx="0.85" fill="#000" fill-opacity="0.55" transform="rotate(-10.0 242.5 407.7)"/>
</g>
<rect x="60.4" y="403.6" width="190.3" height="16.8" fill="none" stroke="#222" stroke-width="1.3"/>
<text x="71.2" y="443.4" font-size="8.0" text-anchor="start" font-weight="bold" transform="rotate(-90 71.2 443.4)" stroke="#111" stroke-width="0.25">DSP</text>
<text x="83.2" y="443.4" font-size="8.0" text-anchor="start" font-weight="bold" transform="rotate(-90 83.2 443.4)" stroke="#111" stroke-width="0.25">DSG</text>
<text x="94.6" y="443.4" font-size="8.0" text-anchor="start" font-weight="bold" transform="rotate(-90 94.6 443.4)" stroke="#111" stroke-width="0.25">DSP</text>
<text x="106" y="443.4" font-size="8.0" text-anchor="start" font-weight="bold" transform="rotate(-90 106 443.4)" stroke="#111" stroke-width="0.25">DSG</text>
<text x="117.5" y="443.4" font-size="8.0" text-anchor="start" font-weight="bold" transform="rotate(-90 117.5 443.4)" stroke="#111" stroke-width="0.25">DSP</text>
<text x="129.5" y="443.4" font-size="8.0" text-anchor="start" font-weight="bold" transform="rotate(-90 129.5 443.4)" stroke="#111" stroke-width="0.25">DSG</text>
<text x="141.3" y="443.4" font-size="8.0" text-anchor="start" font-weight="bold" transform="rotate(-90 141.3 443.4)" stroke="#111" stroke-width="0.25">DSP</text>
<text x="152.8" y="443.4" font-size="8.0" text-anchor="start" font-weight="bold" transform="rotate(-90 152.8 443.4)" stroke="#111" stroke-width="0.25">DSG</text>
<text x="164.8" y="443.4" font-size="8.0" text-anchor="start" font-weight="bold" transform="rotate(-90 164.8 443.4)" stroke="#111" stroke-width="0.25">DSP</text>
<text x="176.8" y="443.4" font-size="8.0" text-anchor="start" font-weight="bold" transform="rotate(-90 176.8 443.4)" stroke="#111" stroke-width="0.25">DSG</text>
<text x="188.5" y="443.4" font-size="8.0" text-anchor="start" font-weight="bold" transform="rotate(-90 188.5 443.4)" stroke="#111" stroke-width="0.25">DSP</text>
<text x="200.4" y="443.4" font-size="8.0" text-anchor="start" font-weight="bold" transform="rotate(-90 200.4 443.4)" stroke="#111" stroke-width="0.25">DSG</text>
<text x="212.4" y="443.4" font-size="8.0" text-anchor="start" font-weight="bold" transform="rotate(-90 212.4 443.4)" stroke="#111" stroke-width="0.25">DSP</text>
<text x="224" y="443.4" font-size="8.0" text-anchor="start" font-weight="bold" transform="rotate(-90 224 443.4)" stroke="#111" stroke-width="0.25">DSG</text>
<text x="236" y="443.4" font-size="8.0" text-anchor="start" font-weight="bold" transform="rotate(-90 236 443.4)" stroke="#111" stroke-width="0.25">DSP</text>
<text x="248" y="443.4" font-size="8.0" text-anchor="start" font-weight="bold" transform="rotate(-90 248 443.4)" stroke="#111" stroke-width="0.25">DSG</text>
<polygon points="252,282.5 259,280.8 259,284.2" fill="#111"/>
<text x="262.8" y="286.2" font-size="7" text-anchor="start" font-weight="bold" stroke="#111" stroke-width="0.18">HMW αsyn</text>
<polygon points="252,326 259.4,324.3 259.4,327.7" fill="#111"/>
<text x="263.6" y="328.9" font-size="7" text-anchor="start" font-weight="bold" stroke="#111" stroke-width="0.18">αsyn-100</text>
<polygon points="252,330.4 259.4,328.7 259.4,332.09999999999997" fill="#111"/>
<text x="263.6" y="334" font-size="7" text-anchor="start" font-weight="bold" stroke="#111" stroke-width="0.18">αsyn-80</text>
<polygon points="252,337.6 259.4,335.90000000000003 259.4,339.3" fill="#111"/>
<text x="263.6" y="341.3" font-size="7" text-anchor="start" font-weight="bold" stroke="#111" stroke-width="0.18">αsyn-60</text>
<polygon points="252,387.2 258.8,385.5 258.8,388.9" fill="#111"/>
<text x="263.6" y="390.5" font-size="7" text-anchor="start" font-weight="bold" stroke="#111" stroke-width="0.18">αsyn-14</text>
<text x="301.3" y="210.8" font-size="11.5" text-anchor="start" font-weight="bold">d</text>
<line x1="345.8" y1="279.8" x2="345.8" y2="413.40000000000003" stroke="#666" stroke-width="1.2"/>
<line x1="342.5" y1="412.8" x2="544.2" y2="412.8" stroke="#666" stroke-width="1.2"/>
<line x1="342.3" y1="412.8" x2="345.8" y2="412.8" stroke="#666" stroke-width="1.2"/>
<text x="340.8" y="415.9" font-size="8.8" text-anchor="end" font-weight="bold">0</text>
<line x1="342.3" y1="368.6" x2="345.8" y2="368.6" stroke="#666" stroke-width="1.2"/>
<text x="340.8" y="371.7" font-size="8.8" text-anchor="end" font-weight="bold">1</text>
<line x1="342.3" y1="324.4" x2="345.8" y2="324.4" stroke="#666" stroke-width="1.2"/>
<text x="340.8" y="327.5" font-size="8.8" text-anchor="end" font-weight="bold">2</text>
<line x1="342.3" y1="280.2" x2="345.8" y2="280.2" stroke="#666" stroke-width="1.2"/>
<text x="340.8" y="283.3" font-size="8.8" text-anchor="end" font-weight="bold">3</text>
<rect x="349.6" y="341.2" width="17.1" height="71.6" fill="#dadada" stroke="#444" stroke-width="1"/>
<path d="M358.1 341.2V334.1M355.5 334.1H360.8" stroke="#444" stroke-width="1" fill="none"/>
<line x1="358.1" y1="412.8" x2="358.1" y2="415.8" stroke="#666" stroke-width="1.2"/>
<text x="361.9" y="425.5" font-size="9.3" text-anchor="end" font-weight="bold" transform="rotate(-45 361.9 425.5)" stroke="#111" stroke-width="0.25">miR2</text>
<rect x="374.3" y="368.5" width="16.8" height="44.3" fill="#b3b3b9" stroke="#444" stroke-width="1"/>
<line x1="382.7" y1="412.8" x2="382.7" y2="415.8" stroke="#666" stroke-width="1.2"/>
<text x="386.5" y="425.5" font-size="9.3" text-anchor="end" font-weight="bold" transform="rotate(-45 386.5 425.5)" stroke="#111" stroke-width="0.25">fLuc</text>
<rect x="399.2" y="369.7" width="16.8" height="43.1" fill="#9b9b9b" stroke="#444" stroke-width="1"/>
<path d="M407.6 369.7V364.1M405.0 364.1H410.2" stroke="#444" stroke-width="1" fill="none"/>
<line x1="407.6" y1="412.8" x2="407.6" y2="415.8" stroke="#666" stroke-width="1.2"/>
<text x="411.4" y="425.5" font-size="9.3" text-anchor="end" font-weight="bold" transform="rotate(-45 411.4 425.5)" stroke="#111" stroke-width="0.25">WT</text>
<rect x="424.4" y="361.6" width="16.6" height="51.2" fill="#7f7f7f" stroke="#444" stroke-width="1"/>
<path d="M432.7 361.6V357.3M430.1 357.3H435.3" stroke="#444" stroke-width="1" fill="none"/>
<line x1="432.7" y1="412.8" x2="432.7" y2="415.8" stroke="#666" stroke-width="1.2"/>
<text x="436.5" y="425.5" font-size="9.3" text-anchor="end" font-weight="bold" transform="rotate(-45 436.5 425.5)" stroke="#111" stroke-width="0.25">DN</text>
<rect x="449.4" y="299.8" width="16.6" height="113.0" fill="#c9c09a" stroke="#444" stroke-width="1"/>
<path d="M457.7 299.8V291.6M455.1 291.6H460.3" stroke="#444" stroke-width="1" fill="none"/>
<line x1="457.7" y1="412.8" x2="457.7" y2="415.8" stroke="#666" stroke-width="1.2"/>
<text x="461.5" y="425.5" font-size="9.3" text-anchor="end" font-weight="bold" transform="rotate(-45 461.5 425.5)" stroke="#111" stroke-width="0.25">miR2+FS</text>
<rect x="474.1" y="324.2" width="16.8" height="88.6" fill="#a39772" stroke="#444" stroke-width="1"/>
<path d="M482.5 324.2V318.3M479.9 318.3H485.1" stroke="#444" stroke-width="1" fill="none"/>
<line x1="482.5" y1="412.8" x2="482.5" y2="415.8" stroke="#666" stroke-width="1.2"/>
<text x="486.3" y="425.5" font-size="9.3" text-anchor="end" font-weight="bold" transform="rotate(-45 486.3 425.5)" stroke="#111" stroke-width="0.25">fLuc+FS</text>
<rect x="498.5" y="360.3" width="17.1" height="52.5" fill="#fcc088" stroke="#444" stroke-width="1"/>
<path d="M507.1 360.3V352M504.4 352H509.7" stroke="#444" stroke-width="1" fill="none"/>
<line x1="507.1" y1="412.8" x2="507.1" y2="415.8" stroke="#666" stroke-width="1.2"/>
<text x="510.9" y="425.5" font-size="9.3" text-anchor="end" font-weight="bold" transform="rotate(-45 510.9 425.5)" stroke="#111" stroke-width="0.25">WT+FS</text>
<rect x="523.7" y="330.3" width="16.6" height="82.5" fill="#d7a678" stroke="#444" stroke-width="1"/>
<path d="M532.0 330.3V322.7M529.4 322.7H534.6" stroke="#444" stroke-width="1" fill="none"/>
<line x1="532.0" y1="412.8" x2="532.0" y2="415.8" stroke="#666" stroke-width="1.2"/>
<text x="535.8" y="425.5" font-size="9.3" text-anchor="end" font-weight="bold" transform="rotate(-45 535.8 425.5)" stroke="#111" stroke-width="0.25">DN+FS</text>
<path d="M432.4 212H529.6M432.4 208.7V215.3M529.6 208.7V215.3" stroke="#444" stroke-width="1" fill="none"/>
<text x="484.3" y="209.5" font-size="9" text-anchor="middle" font-weight="bold">ns</text>
<path d="M410.4 225.5H508M410.4 222.2V228.8M508 222.2V228.8" stroke="#444" stroke-width="1" fill="none"/>
<text x="461" y="223.6" font-size="9" text-anchor="middle" font-weight="bold">ns</text>
<path d="M385.2 242.6H482.8M385.2 239.29999999999998V245.9M482.8 239.29999999999998V245.9" stroke="#444" stroke-width="1" fill="none"/>
<text x="431" y="239.3" font-size="9" text-anchor="middle" font-weight="bold">***</text>
<path d="M361.3 258.6H458.6M361.3 255.3V261.90000000000003M458.6 255.3V261.90000000000003" stroke="#444" stroke-width="1" fill="none"/>
<text x="409" y="255.6" font-size="9" text-anchor="middle" font-weight="bold">***</text>
<path d="M455.8 282V278.9H482.8V307.5H504.1V310.7M482.8 289H529.6V292" stroke="#444" stroke-width="1" fill="none"/>
<text x="469.8" y="276.4" font-size="9" text-anchor="middle" font-weight="bold">ns</text>
<text x="506" y="287.2" font-size="9" text-anchor="middle" font-weight="bold">ns</text>
<text x="493.2" y="304.3" font-size="9" text-anchor="middle" font-weight="bold">*</text>
<text font-size="9.38" font-weight="bold" text-anchor="middle" stroke="#111" stroke-width="0.3" transform="translate(316.8 346.7) rotate(-90)">DSG-cross-linked <tspan font-weight="normal" stroke-width="0.1" dx="2.2" font-size="10.180000000000001">α</tspan><tspan dx="1.6">syn multimers</tspan></text>
<text font-size="9.38" font-weight="bold" text-anchor="middle" stroke="#111" stroke-width="0.3" transform="translate(329.5 345.3) rotate(-90)">relative to DSP <tspan font-weight="normal" stroke-width="0.1" dx="0.3" font-size="10.180000000000001">α</tspan><tspan dx="1.6">syn monomer</tspan></text>
</svg></body></html>
